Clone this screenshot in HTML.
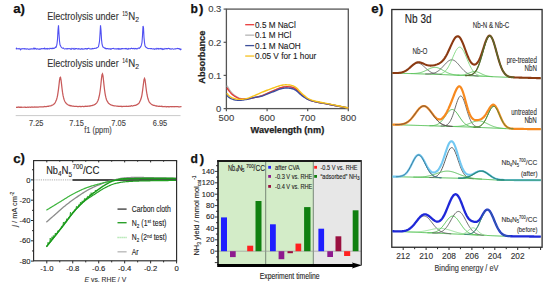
<!DOCTYPE html>
<html><head><meta charset="utf-8"><style>
html,body{margin:0;padding:0;background:#fff;width:550px;height:286px;overflow:hidden}
svg{display:block;font-family:"Liberation Sans", sans-serif}
</style></head><body>
<svg width="550" height="286" viewBox="0 0 550 286">
<text x="13.3" y="12.9" font-size="13.6" text-anchor="start" fill="#111" font-weight="bold" stroke="#111" stroke-width="0.25" textLength="7.4" lengthAdjust="spacingAndGlyphs" >a</text>
<text x="20.5" y="12.9" font-size="13.4" text-anchor="start" fill="#111" font-weight="bold" stroke="#111" stroke-width="0.25" textLength="4.4" lengthAdjust="spacingAndGlyphs" >)</text>
<text x="47.2" y="19.6" font-size="10.56" text-anchor="start" fill="#333" font-weight="normal" stroke="#333" stroke-width="0.12" textLength="71.5" lengthAdjust="spacingAndGlyphs" >Electrolysis under</text>
<text x="122.3" y="15.9" font-size="6.38" text-anchor="start" fill="#333" font-weight="normal" stroke="#333" stroke-width="0.12" textLength="5.6" lengthAdjust="spacingAndGlyphs" >15</text>
<text x="128.2" y="19.6" font-size="10.56" text-anchor="start" fill="#333" font-weight="normal" stroke="#333" stroke-width="0.12" textLength="7.0" lengthAdjust="spacingAndGlyphs" >N</text>
<text x="135.3" y="21.8" font-size="6.82" text-anchor="start" fill="#333" font-weight="normal" stroke="#333" stroke-width="0.12" textLength="3.8" lengthAdjust="spacingAndGlyphs" >2</text>
<text x="47.2" y="66.6" font-size="10.56" text-anchor="start" fill="#333" font-weight="normal" stroke="#333" stroke-width="0.12" textLength="71.5" lengthAdjust="spacingAndGlyphs" >Electrolysis under</text>
<text x="122.3" y="62.9" font-size="6.38" text-anchor="start" fill="#333" font-weight="normal" stroke="#333" stroke-width="0.12" textLength="5.6" lengthAdjust="spacingAndGlyphs" >14</text>
<text x="128.2" y="66.6" font-size="10.56" text-anchor="start" fill="#333" font-weight="normal" stroke="#333" stroke-width="0.12" textLength="7.0" lengthAdjust="spacingAndGlyphs" >N</text>
<text x="135.3" y="68.8" font-size="6.82" text-anchor="start" fill="#333" font-weight="normal" stroke="#333" stroke-width="0.12" textLength="3.8" lengthAdjust="spacingAndGlyphs" >2</text>
<path d="M 16.00 49.19 L 16.50 48.20 L 17.00 48.89 L 17.50 48.72 L 18.00 48.79 L 18.50 48.90 L 19.00 48.54 L 19.50 48.97 L 20.00 48.85 L 20.50 49.77 L 21.00 49.06 L 21.50 48.90 L 22.00 48.87 L 22.50 48.73 L 23.00 48.60 L 23.50 48.70 L 24.00 48.86 L 24.50 48.68 L 25.00 48.95 L 25.50 48.71 L 26.00 48.80 L 26.50 49.18 L 27.00 49.01 L 27.50 48.83 L 28.00 48.94 L 28.50 49.13 L 29.00 49.46 L 29.50 48.97 L 30.00 48.95 L 30.50 49.19 L 31.00 48.73 L 31.50 48.80 L 32.00 49.01 L 32.50 48.90 L 33.00 48.76 L 33.50 48.87 L 34.00 48.11 L 34.50 48.97 L 35.00 48.57 L 35.50 48.46 L 36.00 48.94 L 36.50 49.08 L 37.00 48.87 L 37.50 48.76 L 38.00 49.02 L 38.50 49.00 L 39.00 49.29 L 39.50 49.11 L 40.00 48.94 L 40.50 49.09 L 41.00 48.74 L 41.50 48.54 L 42.00 48.84 L 42.50 48.82 L 43.00 48.65 L 43.50 48.54 L 44.00 48.79 L 44.50 48.24 L 45.00 48.98 L 45.50 48.98 L 46.00 48.55 L 46.50 48.95 L 47.00 48.73 L 47.50 49.09 L 48.00 48.45 L 48.50 48.64 L 49.00 48.94 L 49.50 48.97 L 50.00 48.17 L 50.50 48.46 L 51.00 48.59 L 51.50 48.33 L 52.00 48.77 L 52.50 48.13 L 53.00 48.43 L 53.50 48.08 L 54.00 48.54 L 54.50 48.10 L 55.00 47.81 L 55.50 47.15 L 56.00 47.28 L 56.50 45.98 L 57.00 43.85 L 57.50 39.43 L 58.00 30.40 L 58.50 25.25 L 59.00 34.07 L 59.50 41.02 L 60.00 44.75 L 60.50 45.71 L 61.00 46.78 L 61.50 47.38 L 62.00 47.86 L 62.50 48.21 L 63.00 48.01 L 63.50 48.07 L 64.00 48.57 L 64.50 48.94 L 65.00 48.90 L 65.50 48.81 L 66.00 48.71 L 66.50 48.83 L 67.00 48.68 L 67.50 48.88 L 68.00 48.50 L 68.50 48.67 L 69.00 48.60 L 69.50 48.74 L 70.00 48.69 L 70.50 49.23 L 71.00 49.05 L 71.50 49.10 L 72.00 48.38 L 72.50 48.81 L 73.00 48.79 L 73.50 49.08 L 74.00 48.47 L 74.50 49.23 L 75.00 49.18 L 75.50 48.62 L 76.00 48.65 L 76.50 48.63 L 77.00 48.77 L 77.50 48.86 L 78.00 49.15 L 78.50 48.64 L 79.00 48.86 L 79.50 48.75 L 80.00 49.14 L 80.50 48.97 L 81.00 49.16 L 81.50 48.67 L 82.00 48.90 L 82.50 48.79 L 83.00 49.31 L 83.50 49.11 L 84.00 48.88 L 84.50 48.80 L 85.00 48.96 L 85.50 48.64 L 86.00 48.54 L 86.50 48.80 L 87.00 49.21 L 87.50 48.60 L 88.00 48.53 L 88.50 48.41 L 89.00 48.41 L 89.50 48.86 L 90.00 48.97 L 90.50 48.83 L 91.00 48.92 L 91.50 48.89 L 92.00 48.88 L 92.50 48.48 L 93.00 48.66 L 93.50 48.72 L 94.00 48.43 L 94.50 48.39 L 95.00 48.20 L 95.50 48.18 L 96.00 48.30 L 96.50 47.86 L 97.00 47.70 L 97.50 47.61 L 98.00 47.09 L 98.50 46.50 L 99.00 44.09 L 99.50 41.47 L 100.00 34.14 L 100.50 25.28 L 101.00 30.38 L 101.50 39.35 L 102.00 43.83 L 102.50 45.73 L 103.00 47.11 L 103.50 47.28 L 104.00 47.65 L 104.50 48.08 L 105.00 47.94 L 105.50 48.66 L 106.00 48.51 L 106.50 48.87 L 107.00 48.48 L 107.50 48.49 L 108.00 48.70 L 108.50 48.91 L 109.00 48.68 L 109.50 48.94 L 110.00 48.88 L 110.50 49.24 L 111.00 48.72 L 111.50 49.07 L 112.00 48.66 L 112.50 48.54 L 113.00 48.56 L 113.50 48.42 L 114.00 48.69 L 114.50 48.89 L 115.00 48.71 L 115.50 48.84 L 116.00 49.11 L 116.50 48.86 L 117.00 48.90 L 117.50 48.85 L 118.00 48.59 L 118.50 49.14 L 119.00 48.60 L 119.50 49.12 L 120.00 48.94 L 120.50 49.15 L 121.00 48.84 L 121.50 48.62 L 122.00 48.83 L 122.50 48.59 L 123.00 48.65 L 123.50 48.69 L 124.00 48.67 L 124.50 48.68 L 125.00 48.58 L 125.50 48.77 L 126.00 48.39 L 126.50 48.88 L 127.00 48.68 L 127.50 49.21 L 128.00 49.25 L 128.50 48.52 L 129.00 48.95 L 129.50 48.85 L 130.00 48.59 L 130.50 48.88 L 131.00 48.60 L 131.50 48.27 L 132.00 48.57 L 132.50 48.58 L 133.00 48.64 L 133.50 48.36 L 134.00 48.79 L 134.50 48.85 L 135.00 48.47 L 135.50 48.60 L 136.00 48.73 L 136.50 48.60 L 137.00 49.07 L 137.50 48.65 L 138.00 48.27 L 138.50 48.17 L 139.00 48.13 L 139.50 48.38 L 140.00 47.48 L 140.50 47.03 L 141.00 46.30 L 141.50 44.72 L 142.00 42.35 L 142.50 35.52 L 143.00 26.02 L 143.50 27.71 L 144.00 37.56 L 144.50 42.58 L 145.00 45.76 L 145.50 46.65 L 146.00 47.40 L 146.50 47.61 L 147.00 47.91 L 147.50 48.35 L 148.00 48.53 L 148.50 48.53 L 149.00 48.67 L 149.50 48.58 L 150.00 48.46 L 150.50 48.67 L 151.00 48.66 L 151.50 48.57 L 152.00 48.82 L 152.50 49.01 L 153.00 48.84 L 153.50 48.77 L 154.00 49.06 L 154.50 49.35 L 155.00 48.90 L 155.50 48.92 L 156.00 48.88 L 156.50 49.14 L 157.00 48.43 L 157.50 48.86 L 158.00 49.00 L 158.50 48.53 L 159.00 49.02 L 159.50 48.81 L 160.00 48.59 L 160.50 48.79 L 161.00 48.46 L 161.50 48.72 L 162.00 49.30 L 162.50 48.75 L 163.00 49.39 L 163.50 48.99 L 164.00 49.23 L 164.50 49.01 L 165.00 48.47 L 165.50 48.80 L 166.00 48.92 L 166.50 48.57 L 167.00 48.48 L 167.50 48.83 L 168.00 48.58 L 168.50 48.35 L 169.00 48.59 L 169.50 48.97 L 170.00 48.72 L 170.50 49.08 L 171.00 49.26 L 171.50 48.98 L 172.00 48.76 L 172.50 48.74 L 173.00 49.02 L 173.50 49.21 L 174.00 49.04 L 174.50 49.06 L 175.00 48.79 L 175.50 48.90 L 176.00 48.69 L 176.50 48.68 L 177.00 48.45 L 177.50 48.39 L 178.00 48.65 L 178.50 48.54 L 179.00 48.62 L 179.50 49.03 L 180.00 48.91 L 180.50 49.62 L 181.00 49.22 L 181.50 48.90" fill="none" stroke="#4f4ff2" stroke-width="1.1"/>
<path d="M 16.00 107.37 L 16.50 107.33 L 17.00 107.22 L 17.50 107.40 L 18.00 107.20 L 18.50 106.97 L 19.00 107.35 L 19.50 107.21 L 20.00 107.41 L 20.50 107.20 L 21.00 107.14 L 21.50 107.41 L 22.00 107.14 L 22.50 107.26 L 23.00 107.38 L 23.50 107.25 L 24.00 107.22 L 24.50 107.23 L 25.00 107.30 L 25.50 107.13 L 26.00 107.27 L 26.50 107.26 L 27.00 107.43 L 27.50 107.16 L 28.00 107.09 L 28.50 107.25 L 29.00 107.13 L 29.50 107.19 L 30.00 107.17 L 30.50 107.27 L 31.00 107.08 L 31.50 107.13 L 32.00 106.87 L 32.50 107.03 L 33.00 107.26 L 33.50 107.03 L 34.00 107.02 L 34.50 106.96 L 35.00 107.13 L 35.50 107.08 L 36.00 106.93 L 36.50 107.10 L 37.00 107.05 L 37.50 107.08 L 38.00 106.93 L 38.50 107.15 L 39.00 107.00 L 39.50 106.93 L 40.00 106.87 L 40.50 106.88 L 41.00 106.97 L 41.50 106.83 L 42.00 106.94 L 42.50 106.87 L 43.00 106.91 L 43.50 106.83 L 44.00 106.71 L 44.50 106.49 L 45.00 106.67 L 45.50 106.67 L 46.00 106.56 L 46.50 106.55 L 47.00 106.39 L 47.50 106.33 L 48.00 106.20 L 48.50 106.35 L 49.00 106.14 L 49.50 105.97 L 50.00 105.77 L 50.50 105.76 L 51.00 105.76 L 51.50 105.48 L 52.00 105.16 L 52.50 105.13 L 53.00 104.83 L 53.50 104.44 L 54.00 104.00 L 54.50 103.51 L 55.00 102.81 L 55.50 102.02 L 56.00 100.84 L 56.50 99.75 L 57.00 97.91 L 57.50 95.85 L 58.00 92.54 L 58.50 89.15 L 59.00 84.88 L 59.50 80.45 L 60.00 77.55 L 60.50 77.28 L 61.00 79.78 L 61.50 83.82 L 62.00 88.22 L 62.50 92.14 L 63.00 95.21 L 63.50 97.45 L 64.00 99.24 L 64.50 100.64 L 65.00 101.79 L 65.50 102.42 L 66.00 103.06 L 66.50 103.73 L 67.00 104.04 L 67.50 104.45 L 68.00 104.81 L 68.50 105.10 L 69.00 105.15 L 69.50 105.51 L 70.00 105.40 L 70.50 105.76 L 71.00 105.66 L 71.50 105.79 L 72.00 106.06 L 72.50 106.03 L 73.00 106.06 L 73.50 106.15 L 74.00 106.29 L 74.50 106.28 L 75.00 106.31 L 75.50 106.46 L 76.00 106.31 L 76.50 106.35 L 77.00 106.37 L 77.50 106.56 L 78.00 106.55 L 78.50 106.59 L 79.00 106.47 L 79.50 106.46 L 80.00 106.57 L 80.50 106.44 L 81.00 106.57 L 81.50 106.55 L 82.00 106.40 L 82.50 106.46 L 83.00 106.44 L 83.50 106.62 L 84.00 106.69 L 84.50 106.40 L 85.00 106.39 L 85.50 106.14 L 86.00 106.36 L 86.50 106.31 L 87.00 106.16 L 87.50 106.31 L 88.00 106.03 L 88.50 106.12 L 89.00 106.10 L 89.50 105.89 L 90.00 106.03 L 90.50 105.97 L 91.00 105.63 L 91.50 105.53 L 92.00 105.61 L 92.50 105.40 L 93.00 105.12 L 93.50 105.03 L 94.00 104.83 L 94.50 104.57 L 95.00 104.35 L 95.50 103.94 L 96.00 103.63 L 96.50 103.05 L 97.00 102.30 L 97.50 101.49 L 98.00 100.44 L 98.50 98.99 L 99.00 97.01 L 99.50 94.87 L 100.00 91.74 L 100.50 88.01 L 101.00 83.22 L 101.50 78.42 L 102.00 74.68 L 102.50 73.82 L 103.00 75.91 L 103.50 80.23 L 104.00 85.16 L 104.50 89.45 L 105.00 93.05 L 105.50 95.78 L 106.00 97.91 L 106.50 99.69 L 107.00 100.70 L 107.50 101.72 L 108.00 102.47 L 108.50 103.17 L 109.00 103.49 L 109.50 103.95 L 110.00 104.35 L 110.50 104.70 L 111.00 104.88 L 111.50 105.03 L 112.00 105.17 L 112.50 105.46 L 113.00 105.68 L 113.50 105.68 L 114.00 105.76 L 114.50 105.88 L 115.00 105.81 L 115.50 105.94 L 116.00 106.00 L 116.50 106.11 L 117.00 106.12 L 117.50 106.04 L 118.00 106.31 L 118.50 106.40 L 119.00 106.23 L 119.50 106.32 L 120.00 106.33 L 120.50 106.40 L 121.00 106.19 L 121.50 106.51 L 122.00 106.31 L 122.50 106.49 L 123.00 106.37 L 123.50 106.33 L 124.00 106.36 L 124.50 106.46 L 125.00 106.28 L 125.50 106.32 L 126.00 106.30 L 126.50 106.16 L 127.00 106.45 L 127.50 106.36 L 128.00 106.28 L 128.50 106.38 L 129.00 106.14 L 129.50 106.20 L 130.00 106.34 L 130.50 106.23 L 131.00 105.86 L 131.50 105.70 L 132.00 105.87 L 132.50 106.02 L 133.00 105.79 L 133.50 105.73 L 134.00 105.71 L 134.50 105.45 L 135.00 105.43 L 135.50 105.33 L 136.00 105.12 L 136.50 104.90 L 137.00 104.55 L 137.50 104.36 L 138.00 103.90 L 138.50 103.62 L 139.00 103.20 L 139.50 102.17 L 140.00 101.15 L 140.50 100.21 L 141.00 98.83 L 141.50 97.00 L 142.00 94.52 L 142.50 91.16 L 143.00 87.29 L 143.50 83.32 L 144.00 79.59 L 144.50 78.41 L 145.00 79.68 L 145.50 83.28 L 146.00 87.45 L 146.50 91.32 L 147.00 94.50 L 147.50 96.80 L 148.00 98.83 L 148.50 100.26 L 149.00 101.42 L 149.50 102.39 L 150.00 102.93 L 150.50 103.45 L 151.00 103.89 L 151.50 104.30 L 152.00 104.72 L 152.50 104.81 L 153.00 105.23 L 153.50 105.32 L 154.00 105.43 L 154.50 105.45 L 155.00 105.73 L 155.50 105.87 L 156.00 105.72 L 156.50 106.09 L 157.00 106.21 L 157.50 106.14 L 158.00 106.21 L 158.50 106.46 L 159.00 106.38 L 159.50 106.21 L 160.00 106.34 L 160.50 106.35 L 161.00 106.39 L 161.50 106.19 L 162.00 106.53 L 162.50 106.41 L 163.00 106.52 L 163.50 106.51 L 164.00 106.62 L 164.50 106.52 L 165.00 106.49 L 165.50 106.64 L 166.00 106.74 L 166.50 106.58 L 167.00 106.76 L 167.50 106.66 L 168.00 106.59 L 168.50 106.80 L 169.00 106.58 L 169.50 106.77 L 170.00 106.63 L 170.50 106.73 L 171.00 106.57 L 171.50 106.61 L 172.00 106.81 L 172.50 106.73 L 173.00 106.72 L 173.50 106.67 L 174.00 106.77 L 174.50 106.59 L 175.00 106.62 L 175.50 106.72 L 176.00 106.65 L 176.50 106.67 L 177.00 106.74 L 177.50 106.73 L 178.00 106.73 L 178.50 106.92 L 179.00 106.85 L 179.50 106.88 L 180.00 106.76 L 180.50 106.71 L 181.00 106.62 L 181.50 106.73" fill="none" stroke="#c85a5a" stroke-width="1.25"/>
<line x1="15.7" y1="115.6" x2="180.5" y2="115.6" stroke="#bdbdbd" stroke-width="0.8"/>
<text x="36.2" y="125.7" font-size="9.02" text-anchor="middle" fill="#444" font-weight="normal" stroke="#444" stroke-width="0.12" textLength="14.5" lengthAdjust="spacingAndGlyphs" >7.25</text>
<text x="76.6" y="125.7" font-size="9.02" text-anchor="middle" fill="#444" font-weight="normal" stroke="#444" stroke-width="0.12" textLength="14.5" lengthAdjust="spacingAndGlyphs" >7.15</text>
<text x="118.6" y="125.7" font-size="9.02" text-anchor="middle" fill="#444" font-weight="normal" stroke="#444" stroke-width="0.12" textLength="14.5" lengthAdjust="spacingAndGlyphs" >7.05</text>
<text x="160" y="125.7" font-size="9.02" text-anchor="middle" fill="#444" font-weight="normal" stroke="#444" stroke-width="0.12" textLength="14.5" lengthAdjust="spacingAndGlyphs" >6.95</text>
<text x="98" y="132.7" font-size="9.02" text-anchor="middle" fill="#444" font-weight="normal" stroke="#444" stroke-width="0.12" textLength="27.5" lengthAdjust="spacingAndGlyphs" >f1 (ppm)</text>
<text x="190.4" y="12.7" font-size="13.6" text-anchor="start" fill="#111" font-weight="bold" stroke="#111" stroke-width="0.25" textLength="7.4" lengthAdjust="spacingAndGlyphs" >b</text>
<text x="199.1" y="12.9" font-size="13.4" text-anchor="start" fill="#111" font-weight="bold" stroke="#111" stroke-width="0.25" textLength="4.4" lengthAdjust="spacingAndGlyphs" >)</text>
<rect x="226.4" y="9.1" width="121.9" height="99.5" fill="none" stroke="#555" stroke-width="1.3"/>
<line x1="223.6" y1="9.1" x2="226.4" y2="9.1" stroke="#555" stroke-width="1.2"/>
<text x="221.3" y="12.3" font-size="9.46" text-anchor="end" fill="#444" font-weight="normal" stroke="#444" stroke-width="0.12" >0.3</text>
<line x1="223.6" y1="42.3" x2="226.4" y2="42.3" stroke="#555" stroke-width="1.2"/>
<text x="221.3" y="45.5" font-size="9.46" text-anchor="end" fill="#444" font-weight="normal" stroke="#444" stroke-width="0.12" >0.2</text>
<line x1="223.6" y1="75.4" x2="226.4" y2="75.4" stroke="#555" stroke-width="1.2"/>
<text x="221.3" y="78.60000000000001" font-size="9.46" text-anchor="end" fill="#444" font-weight="normal" stroke="#444" stroke-width="0.12" >0.1</text>
<line x1="223.6" y1="108.6" x2="226.4" y2="108.6" stroke="#555" stroke-width="1.2"/>
<text x="221.3" y="111.8" font-size="9.46" text-anchor="end" fill="#444" font-weight="normal" stroke="#444" stroke-width="0.12" >0</text>
<line x1="226.4" y1="108.6" x2="226.4" y2="111.2" stroke="#555" stroke-width="1.2"/>
<text x="226.4" y="121" font-size="9.46" text-anchor="middle" fill="#444" font-weight="normal" stroke="#444" stroke-width="0.12" >500</text>
<line x1="267.1" y1="108.6" x2="267.1" y2="111.2" stroke="#555" stroke-width="1.2"/>
<text x="267.1" y="121" font-size="9.46" text-anchor="middle" fill="#444" font-weight="normal" stroke="#444" stroke-width="0.12" >600</text>
<line x1="307.7" y1="108.6" x2="307.7" y2="111.2" stroke="#555" stroke-width="1.2"/>
<text x="307.7" y="121" font-size="9.46" text-anchor="middle" fill="#444" font-weight="normal" stroke="#444" stroke-width="0.12" >700</text>
<line x1="348.3" y1="108.6" x2="348.3" y2="111.2" stroke="#555" stroke-width="1.2"/>
<text x="348.3" y="121" font-size="9.46" text-anchor="middle" fill="#444" font-weight="normal" stroke="#444" stroke-width="0.12" >800</text>
<text x="287.4" y="133" font-size="9.2" text-anchor="middle" fill="#222" font-weight="bold" stroke="#222" stroke-width="0.25" textLength="73.6" lengthAdjust="spacingAndGlyphs" >Wavelength (nm)</text>
<text x="0" y="0" font-size="9.2" font-weight="bold" fill="#222" stroke="#222" stroke-width="0.25" text-anchor="middle" textLength="53" lengthAdjust="spacingAndGlyphs" transform="translate(205.4,57.2) rotate(-90)">Absorbance</text>
<line x1="245.2" y1="24.7" x2="254.2" y2="24.7" stroke="#e83a3a" stroke-width="1.3"/>
<text x="255.1" y="27.8" font-size="9.46" text-anchor="start" fill="#1a1a1a" font-weight="normal" stroke="#1a1a1a" stroke-width="0.12" textLength="40.7" lengthAdjust="spacingAndGlyphs" >0.5 M NaCl</text>
<line x1="245.2" y1="35.15" x2="254.2" y2="35.15" stroke="#b4b4b4" stroke-width="1.3"/>
<text x="255.1" y="38.25" font-size="9.46" text-anchor="start" fill="#1a1a1a" font-weight="normal" stroke="#1a1a1a" stroke-width="0.12" textLength="36.1" lengthAdjust="spacingAndGlyphs" >0.1 M HCl</text>
<line x1="245.2" y1="45.599999999999994" x2="254.2" y2="45.599999999999994" stroke="#3d4f9a" stroke-width="1.3"/>
<text x="255.1" y="48.699999999999996" font-size="9.46" text-anchor="start" fill="#1a1a1a" font-weight="normal" stroke="#1a1a1a" stroke-width="0.12" textLength="45.6" lengthAdjust="spacingAndGlyphs" >0.1 M NaOH</text>
<line x1="245.2" y1="56.05" x2="254.2" y2="56.05" stroke="#f5c020" stroke-width="1.3"/>
<text x="255.1" y="59.15" font-size="9.46" text-anchor="start" fill="#1a1a1a" font-weight="normal" stroke="#1a1a1a" stroke-width="0.12" textLength="61.2" lengthAdjust="spacingAndGlyphs" >0.05 V for 1 hour</text>
<path d="M 226.80 85.60 L 227.20 86.19 L 227.72 87.00 L 228.33 87.96 L 229.03 89.02 L 229.76 90.11 L 230.52 91.18 L 231.28 92.16 L 232.00 93.00 L 232.71 93.72 L 233.44 94.40 L 234.19 95.04 L 234.95 95.62 L 235.71 96.17 L 236.48 96.66 L 237.24 97.11 L 238.00 97.50 L 238.74 97.84 L 239.45 98.12 L 240.16 98.35 L 240.88 98.54 L 241.60 98.68 L 242.36 98.78 L 243.15 98.86 L 244.00 98.90 L 244.89 98.91 L 245.81 98.87 L 246.77 98.80 L 247.75 98.69 L 248.77 98.56 L 249.81 98.39 L 250.89 98.20 L 252.00 98.00 L 253.15 97.78 L 254.36 97.53 L 255.60 97.26 L 256.88 96.96 L 258.16 96.64 L 259.45 96.29 L 260.74 95.91 L 262.00 95.50 L 263.26 95.04 L 264.52 94.54 L 265.79 93.99 L 267.06 93.42 L 268.32 92.84 L 269.57 92.27 L 270.80 91.72 L 272.00 91.20 L 273.19 90.70 L 274.37 90.19 L 275.54 89.68 L 276.69 89.19 L 277.82 88.73 L 278.91 88.30 L 279.98 87.92 L 281.00 87.60 L 281.97 87.33 L 282.89 87.11 L 283.77 86.92 L 284.62 86.77 L 285.46 86.67 L 286.30 86.61 L 287.14 86.58 L 288.00 86.60 L 288.87 86.64 L 289.73 86.68 L 290.58 86.76 L 291.44 86.88 L 292.30 87.07 L 293.18 87.34 L 294.08 87.71 L 295.00 88.20 L 295.95 88.85 L 296.91 89.67 L 297.89 90.61 L 298.89 91.62 L 299.90 92.66 L 300.92 93.68 L 301.95 94.64 L 303.00 95.50 L 304.00 96.27 L 304.92 97.00 L 305.83 97.70 L 306.76 98.38 L 307.78 99.02 L 308.92 99.63 L 310.24 100.23 L 311.80 100.80 L 313.62 101.34 L 315.69 101.84 L 317.93 102.31 L 320.31 102.76 L 322.75 103.20 L 325.22 103.63 L 327.66 104.06 L 330.00 104.50 L 332.41 104.97 L 335.00 105.47 L 337.66 105.98 L 340.29 106.48 L 342.77 106.95 L 345.01 107.38 L 346.89 107.73 L 348.30 108.00" fill="none" stroke="#bdbdbd" stroke-width="1.4"/>
<path d="M 226.80 87.80 L 227.19 88.31 L 227.69 89.00 L 228.29 89.83 L 228.96 90.74 L 229.69 91.68 L 230.45 92.60 L 231.23 93.46 L 232.00 94.20 L 232.80 94.86 L 233.65 95.49 L 234.54 96.10 L 235.45 96.67 L 236.37 97.19 L 237.28 97.66 L 238.16 98.07 L 239.00 98.40 L 239.79 98.65 L 240.55 98.82 L 241.28 98.92 L 242.00 98.96 L 242.72 98.97 L 243.45 98.95 L 244.21 98.93 L 245.00 98.90 L 245.81 98.87 L 246.61 98.83 L 247.42 98.77 L 248.25 98.69 L 249.11 98.58 L 250.02 98.45 L 250.97 98.29 L 252.00 98.10 L 253.11 97.88 L 254.29 97.64 L 255.53 97.37 L 256.81 97.07 L 258.12 96.74 L 259.43 96.39 L 260.73 96.01 L 262.00 95.60 L 263.26 95.14 L 264.52 94.64 L 265.79 94.09 L 267.06 93.52 L 268.32 92.94 L 269.57 92.37 L 270.80 91.82 L 272.00 91.30 L 273.19 90.80 L 274.37 90.29 L 275.54 89.78 L 276.69 89.29 L 277.82 88.82 L 278.91 88.39 L 279.98 88.02 L 281.00 87.70 L 281.97 87.44 L 282.89 87.22 L 283.77 87.05 L 284.62 86.92 L 285.46 86.83 L 286.30 86.78 L 287.14 86.77 L 288.00 86.80 L 288.87 86.85 L 289.73 86.91 L 290.58 87.00 L 291.44 87.14 L 292.30 87.34 L 293.18 87.62 L 294.08 88.00 L 295.00 88.50 L 295.95 89.16 L 296.91 89.99 L 297.89 90.93 L 298.89 91.94 L 299.90 92.98 L 300.92 94.01 L 301.95 94.96 L 303.00 95.80 L 304.00 96.54 L 304.92 97.24 L 305.83 97.90 L 306.76 98.53 L 307.78 99.12 L 308.92 99.70 L 310.24 100.25 L 311.80 100.80 L 313.62 101.33 L 315.69 101.82 L 317.93 102.29 L 320.31 102.74 L 322.75 103.18 L 325.22 103.62 L 327.66 104.06 L 330.00 104.50 L 332.41 104.97 L 335.00 105.47 L 337.66 105.98 L 340.29 106.48 L 342.77 106.95 L 345.01 107.38 L 346.89 107.73 L 348.30 108.00" fill="none" stroke="#e53935" stroke-width="1.4"/>
<path d="M 226.80 95.50 L 227.10 95.75 L 227.48 96.09 L 227.94 96.49 L 228.45 96.94 L 229.02 97.40 L 229.64 97.84 L 230.30 98.25 L 231.00 98.60 L 231.75 98.91 L 232.57 99.20 L 233.45 99.49 L 234.37 99.75 L 235.32 99.98 L 236.29 100.17 L 237.25 100.31 L 238.20 100.40 L 239.14 100.42 L 240.10 100.39 L 241.07 100.30 L 242.05 100.18 L 243.03 100.03 L 244.02 99.86 L 245.01 99.68 L 246.00 99.50 L 246.99 99.31 L 247.98 99.09 L 248.98 98.85 L 249.97 98.59 L 250.98 98.33 L 251.98 98.08 L 252.99 97.83 L 254.00 97.60 L 255.00 97.40 L 256.00 97.23 L 256.99 97.07 L 257.99 96.92 L 259.00 96.75 L 260.03 96.55 L 261.10 96.30 L 262.20 96.00 L 263.35 95.63 L 264.56 95.20 L 265.79 94.72 L 267.05 94.21 L 268.31 93.69 L 269.57 93.17 L 270.80 92.67 L 272.00 92.20 L 273.18 91.74 L 274.35 91.26 L 275.52 90.78 L 276.68 90.31 L 277.81 89.86 L 278.91 89.45 L 279.98 89.09 L 281.00 88.80 L 281.97 88.57 L 282.89 88.38 L 283.77 88.23 L 284.62 88.13 L 285.46 88.07 L 286.30 88.04 L 287.14 88.05 L 288.00 88.10 L 288.87 88.16 L 289.73 88.24 L 290.58 88.35 L 291.44 88.49 L 292.30 88.70 L 293.18 88.97 L 294.08 89.34 L 295.00 89.80 L 295.95 90.41 L 296.91 91.16 L 297.89 92.01 L 298.89 92.93 L 299.90 93.87 L 300.92 94.79 L 301.95 95.65 L 303.00 96.40 L 304.00 97.06 L 304.92 97.67 L 305.83 98.24 L 306.76 98.78 L 307.78 99.30 L 308.92 99.80 L 310.24 100.30 L 311.80 100.80 L 313.62 101.30 L 315.69 101.78 L 317.93 102.25 L 320.31 102.71 L 322.75 103.16 L 325.22 103.61 L 327.66 104.05 L 330.00 104.50 L 332.41 104.97 L 335.00 105.47 L 337.66 105.98 L 340.29 106.48 L 342.77 106.95 L 345.01 107.38 L 346.89 107.73 L 348.30 108.00" fill="none" stroke="#3b4ea0" stroke-width="1.4"/>
<path d="M 226.80 93.30 L 227.10 93.61 L 227.49 94.04 L 227.94 94.56 L 228.46 95.12 L 229.04 95.70 L 229.65 96.26 L 230.31 96.77 L 231.00 97.20 L 231.74 97.57 L 232.53 97.91 L 233.38 98.24 L 234.28 98.53 L 235.19 98.79 L 236.13 99.01 L 237.07 99.18 L 238.00 99.30 L 238.93 99.37 L 239.88 99.39 L 240.85 99.37 L 241.82 99.31 L 242.81 99.21 L 243.80 99.07 L 244.80 98.90 L 245.80 98.70 L 246.81 98.45 L 247.82 98.15 L 248.85 97.81 L 249.88 97.44 L 250.91 97.04 L 251.94 96.63 L 252.97 96.21 L 254.00 95.80 L 255.01 95.38 L 256.01 94.95 L 257.00 94.51 L 258.00 94.06 L 259.01 93.60 L 260.04 93.13 L 261.10 92.66 L 262.20 92.20 L 263.35 91.73 L 264.56 91.25 L 265.79 90.75 L 267.05 90.26 L 268.31 89.78 L 269.57 89.30 L 270.80 88.84 L 272.00 88.40 L 273.18 87.97 L 274.35 87.54 L 275.52 87.11 L 276.68 86.69 L 277.81 86.31 L 278.91 85.96 L 279.98 85.65 L 281.00 85.40 L 281.97 85.20 L 282.89 85.04 L 283.77 84.92 L 284.62 84.84 L 285.46 84.80 L 286.30 84.80 L 287.14 84.83 L 288.00 84.90 L 288.87 84.98 L 289.73 85.07 L 290.58 85.18 L 291.44 85.34 L 292.30 85.56 L 293.18 85.86 L 294.08 86.27 L 295.00 86.80 L 295.95 87.50 L 296.91 88.36 L 297.89 89.35 L 298.89 90.41 L 299.90 91.50 L 300.92 92.58 L 301.95 93.59 L 303.00 94.50 L 304.00 95.32 L 304.92 96.11 L 305.83 96.86 L 306.76 97.59 L 307.78 98.28 L 308.92 98.95 L 310.24 99.59 L 311.80 100.20 L 313.62 100.77 L 315.69 101.30 L 317.93 101.79 L 320.31 102.26 L 322.75 102.72 L 325.22 103.17 L 327.66 103.62 L 330.00 104.10 L 332.41 104.61 L 335.00 105.17 L 337.66 105.73 L 340.29 106.29 L 342.77 106.82 L 345.01 107.30 L 346.89 107.70 L 348.30 108.00" fill="none" stroke="#f7c21a" stroke-width="1.4"/>
<text x="13.2" y="162.7" font-size="13.6" text-anchor="start" fill="#111" font-weight="bold" stroke="#111" stroke-width="0.25" textLength="7.4" lengthAdjust="spacingAndGlyphs" >c</text>
<text x="20.5" y="162.0" font-size="13.4" text-anchor="start" fill="#111" font-weight="bold" stroke="#111" stroke-width="0.25" textLength="4.4" lengthAdjust="spacingAndGlyphs" >)</text>
<rect x="33.6" y="160.6" width="143" height="100.2" fill="none" stroke="#2a2a2a" stroke-width="1.15"/>
<line x1="32.0" y1="169.75" x2="33.6" y2="169.75" stroke="#2a2a2a" stroke-width="1"/>
<line x1="31.0" y1="179.90" x2="33.6" y2="179.90" stroke="#2a2a2a" stroke-width="1"/>
<text x="30.4" y="182.5" font-size="7.59" text-anchor="end" fill="#222" font-weight="normal" stroke="#222" stroke-width="0.12" >0</text>
<line x1="32.0" y1="190.05" x2="33.6" y2="190.05" stroke="#2a2a2a" stroke-width="1"/>
<line x1="31.0" y1="200.20" x2="33.6" y2="200.20" stroke="#2a2a2a" stroke-width="1"/>
<text x="30.4" y="202.8" font-size="7.59" text-anchor="end" fill="#222" font-weight="normal" stroke="#222" stroke-width="0.12" >-20</text>
<line x1="32.0" y1="210.35" x2="33.6" y2="210.35" stroke="#2a2a2a" stroke-width="1"/>
<line x1="31.0" y1="220.50" x2="33.6" y2="220.50" stroke="#2a2a2a" stroke-width="1"/>
<text x="30.4" y="223.1" font-size="7.59" text-anchor="end" fill="#222" font-weight="normal" stroke="#222" stroke-width="0.12" >-40</text>
<line x1="32.0" y1="230.65" x2="33.6" y2="230.65" stroke="#2a2a2a" stroke-width="1"/>
<line x1="31.0" y1="240.80" x2="33.6" y2="240.80" stroke="#2a2a2a" stroke-width="1"/>
<text x="30.4" y="243.4" font-size="7.59" text-anchor="end" fill="#222" font-weight="normal" stroke="#222" stroke-width="0.12" >-60</text>
<line x1="32.0" y1="250.95" x2="33.6" y2="250.95" stroke="#2a2a2a" stroke-width="1"/>
<line x1="31.0" y1="261.10" x2="33.6" y2="261.10" stroke="#2a2a2a" stroke-width="1"/>
<text x="30.4" y="263.70000000000005" font-size="7.59" text-anchor="end" fill="#222" font-weight="normal" stroke="#222" stroke-width="0.12" >-80</text>
<line x1="46.80" y1="260.8" x2="46.80" y2="263.40000000000003" stroke="#2a2a2a" stroke-width="1"/>
<line x1="46.80" y1="160.6" x2="46.80" y2="162.42" stroke="#2a2a2a" stroke-width="1"/>
<text x="46.79999999999998" y="270.8" font-size="7.7" text-anchor="middle" fill="#222" font-weight="normal" stroke="#222" stroke-width="0.12" >-1.0</text>
<line x1="59.78" y1="260.8" x2="59.78" y2="262.40000000000003" stroke="#2a2a2a" stroke-width="1"/>
<line x1="59.78" y1="160.6" x2="59.78" y2="161.72" stroke="#2a2a2a" stroke-width="1"/>
<line x1="72.76" y1="260.8" x2="72.76" y2="263.40000000000003" stroke="#2a2a2a" stroke-width="1"/>
<line x1="72.76" y1="160.6" x2="72.76" y2="162.42" stroke="#2a2a2a" stroke-width="1"/>
<text x="72.75999999999998" y="270.8" font-size="7.7" text-anchor="middle" fill="#222" font-weight="normal" stroke="#222" stroke-width="0.12" >-0.8</text>
<line x1="85.74" y1="260.8" x2="85.74" y2="262.40000000000003" stroke="#2a2a2a" stroke-width="1"/>
<line x1="85.74" y1="160.6" x2="85.74" y2="161.72" stroke="#2a2a2a" stroke-width="1"/>
<line x1="98.72" y1="260.8" x2="98.72" y2="263.40000000000003" stroke="#2a2a2a" stroke-width="1"/>
<line x1="98.72" y1="160.6" x2="98.72" y2="162.42" stroke="#2a2a2a" stroke-width="1"/>
<text x="98.71999999999998" y="270.8" font-size="7.7" text-anchor="middle" fill="#222" font-weight="normal" stroke="#222" stroke-width="0.12" >-0.6</text>
<line x1="111.70" y1="260.8" x2="111.70" y2="262.40000000000003" stroke="#2a2a2a" stroke-width="1"/>
<line x1="111.70" y1="160.6" x2="111.70" y2="161.72" stroke="#2a2a2a" stroke-width="1"/>
<line x1="124.68" y1="260.8" x2="124.68" y2="263.40000000000003" stroke="#2a2a2a" stroke-width="1"/>
<line x1="124.68" y1="160.6" x2="124.68" y2="162.42" stroke="#2a2a2a" stroke-width="1"/>
<text x="124.67999999999998" y="270.8" font-size="7.7" text-anchor="middle" fill="#222" font-weight="normal" stroke="#222" stroke-width="0.12" >-0.4</text>
<line x1="137.66" y1="260.8" x2="137.66" y2="262.40000000000003" stroke="#2a2a2a" stroke-width="1"/>
<line x1="137.66" y1="160.6" x2="137.66" y2="161.72" stroke="#2a2a2a" stroke-width="1"/>
<line x1="150.64" y1="260.8" x2="150.64" y2="263.40000000000003" stroke="#2a2a2a" stroke-width="1"/>
<line x1="150.64" y1="160.6" x2="150.64" y2="162.42" stroke="#2a2a2a" stroke-width="1"/>
<text x="150.64" y="270.8" font-size="7.7" text-anchor="middle" fill="#222" font-weight="normal" stroke="#222" stroke-width="0.12" >-0.2</text>
<line x1="163.62" y1="260.8" x2="163.62" y2="262.40000000000003" stroke="#2a2a2a" stroke-width="1"/>
<line x1="163.62" y1="160.6" x2="163.62" y2="161.72" stroke="#2a2a2a" stroke-width="1"/>
<line x1="176.60" y1="260.8" x2="176.60" y2="263.40000000000003" stroke="#2a2a2a" stroke-width="1"/>
<line x1="176.60" y1="160.6" x2="176.60" y2="162.42" stroke="#2a2a2a" stroke-width="1"/>
<text x="176.6" y="270.8" font-size="7.7" text-anchor="middle" fill="#222" font-weight="normal" stroke="#222" stroke-width="0.12" >0</text>
<text x="84.6" y="282" font-size="7.92" text-anchor="start" fill="#333" font-weight="normal" stroke="#333" stroke-width="0.12" textLength="41.6" lengthAdjust="spacingAndGlyphs" ><tspan font-style="italic">E</tspan> vs. RHE / V</text>
<text x="0" y="0" font-size="7.6" fill="#333" stroke="#333" stroke-width="0.12" text-anchor="middle" textLength="35" lengthAdjust="spacingAndGlyphs" transform="translate(16.9,209.2) rotate(-90)"><tspan font-style="italic">j</tspan> / mA cm<tspan font-size="5" dy="-2.7">-2</tspan></text>
<text x="46.2" y="173.5" font-size="10.78" text-anchor="start" fill="#222" font-weight="normal" stroke="#222" stroke-width="0.12" textLength="11.8" lengthAdjust="spacingAndGlyphs" >Nb</text>
<text x="57.9" y="176.2" font-size="6.6" text-anchor="start" fill="#222" font-weight="normal" stroke="#222" stroke-width="0.12" textLength="3.5" lengthAdjust="spacingAndGlyphs" >4</text>
<text x="61.6" y="173.5" font-size="10.78" text-anchor="start" fill="#222" font-weight="normal" stroke="#222" stroke-width="0.12" textLength="7.0" lengthAdjust="spacingAndGlyphs" >N</text>
<text x="68.6" y="176.6" font-size="6.6" text-anchor="start" fill="#222" font-weight="normal" stroke="#222" stroke-width="0.12" textLength="3.5" lengthAdjust="spacingAndGlyphs" >5</text>
<text x="72.6" y="168.8" font-size="6.6" text-anchor="start" fill="#222" font-weight="normal" stroke="#222" stroke-width="0.12" textLength="10.3" lengthAdjust="spacingAndGlyphs" >700</text>
<text x="82.9" y="173.5" font-size="10.78" text-anchor="start" fill="#222" font-weight="normal" stroke="#222" stroke-width="0.12" textLength="16.6" lengthAdjust="spacingAndGlyphs" >/CC</text>
<line x1="34.2" y1="179.9" x2="72.5" y2="179.9" stroke="#aaa" stroke-width="1" stroke-dasharray="1.2,1"/>
<line x1="72.5" y1="180" x2="176" y2="180" stroke="#111" stroke-width="1.3"/>
<path d="M 46.40 222.20 L 47.10 221.58 L 47.80 220.96 L 48.50 220.34 L 49.20 219.72 L 49.90 219.10 L 50.60 218.48 L 51.30 217.86 L 52.00 217.24 L 52.70 216.63 L 53.40 216.01 L 54.10 215.39 L 54.80 214.78 L 55.50 214.16 L 56.20 213.54 L 56.90 212.91 L 57.60 212.29 L 58.30 211.66 L 59.00 211.03 L 59.70 210.41 L 60.40 209.78 L 61.10 209.17 L 61.80 208.56 L 62.50 207.95 L 63.20 207.36 L 63.90 206.77 L 64.60 206.20 L 65.30 205.64 L 66.00 205.08 L 66.70 204.52 L 67.40 203.98 L 68.10 203.44 L 68.80 202.90 L 69.50 202.37 L 70.20 201.85 L 70.90 201.33 L 71.60 200.82 L 72.30 200.31 L 73.00 199.81 L 73.70 199.31 L 74.40 198.82 L 75.10 198.33 L 75.80 197.84 L 76.50 197.35 L 77.20 196.86 L 77.90 196.37 L 78.60 195.89 L 79.30 195.41 L 80.00 194.94 L 80.70 194.47 L 81.40 194.00 L 82.10 193.54 L 82.80 193.09 L 83.50 192.65 L 84.20 192.21 L 84.90 191.78 L 85.60 191.36 L 86.30 190.95 L 87.00 190.55 L 87.70 190.16 L 88.40 189.78 L 89.10 189.41 L 89.80 189.04 L 90.50 188.68 L 91.20 188.33 L 91.90 187.98 L 92.60 187.63 L 93.30 187.29 L 94.00 186.96 L 94.70 186.64 L 95.40 186.32 L 96.10 186.01 L 96.80 185.70 L 97.50 185.41 L 98.20 185.11 L 98.90 184.83 L 99.60 184.55 L 100.30 184.29 L 101.00 184.02 L 101.70 183.76 L 102.40 183.50 L 103.10 183.25 L 103.80 183.00 L 104.50 182.75 L 105.20 182.52 L 105.90 182.28 L 106.60 182.05 L 107.30 181.83 L 108.00 181.61 L 108.70 181.40 L 109.40 181.20 L 110.10 181.00 L 110.80 180.81 L 111.50 180.63 L 112.20 180.45 L 112.90 180.28 L 113.60 180.10 L 114.30 179.92 L 115.00 179.75 L 115.70 179.58 L 116.40 179.41 L 117.10 179.24 L 117.80 179.08 L 118.50 178.92 L 119.20 178.77 L 119.90 178.63 L 120.60 178.50 L 121.30 178.37 L 122.00 178.26 L 122.70 178.15 L 123.40 178.06 L 124.10 177.98 L 124.80 177.92 L 125.50 177.86 L 126.20 177.81 L 126.90 177.76 L 127.60 177.71 L 128.30 177.66 L 129.00 177.61 L 129.70 177.57 L 130.40 177.53 L 131.10 177.50 L 131.80 177.47 L 132.50 177.44 L 133.20 177.42 L 133.90 177.41 L 134.60 177.40 L 135.30 177.40 L 136.00 177.40 L 136.70 177.41 L 137.40 177.41 L 138.10 177.42 L 138.80 177.43 L 139.50 177.44 L 140.20 177.45 L 140.90 177.46 L 141.60 177.47 L 142.30 177.49 L 143.00 177.50 L 143.70 177.52 L 144.40 177.54 L 145.10 177.55 L 145.80 177.57 L 146.50 177.59 L 147.20 177.61 L 147.90 177.63 L 148.60 177.65 L 149.30 177.66 L 150.00 177.68 L 150.70 177.70 L 151.40 177.72 L 152.10 177.74 L 152.80 177.75 L 153.50 177.77 L 154.20 177.78 L 154.90 177.80 L 155.60 177.81 L 156.30 177.83 L 157.00 177.84 L 157.70 177.85 L 158.40 177.87 L 159.10 177.88 L 159.80 177.89 L 160.50 177.91 L 161.20 177.92 L 161.90 177.93 L 162.60 177.95 L 163.30 177.96 L 164.00 177.97 L 164.70 177.99 L 165.40 178.00 L 166.10 178.01 L 166.80 178.03 L 167.50 178.04 L 168.20 178.05 L 168.90 178.07 L 169.60 178.08 L 170.30 178.09 L 171.00 178.11 L 171.70 178.12 L 172.40 178.13 L 173.10 178.15 L 173.80 178.16 L 174.50 178.17 L 175.20 178.19 L 175.90 178.20" fill="none" stroke="#8c8c8c" stroke-width="1.3"/>
<path d="M 46.40 210.20 L 47.10 209.77 L 47.80 209.34 L 48.50 208.91 L 49.20 208.48 L 49.90 208.05 L 50.60 207.62 L 51.30 207.19 L 52.00 206.77 L 52.70 206.34 L 53.40 205.91 L 54.10 205.48 L 54.80 205.06 L 55.50 204.63 L 56.20 204.21 L 56.90 203.78 L 57.60 203.35 L 58.30 202.93 L 59.00 202.51 L 59.70 202.08 L 60.40 201.66 L 61.10 201.23 L 61.80 200.80 L 62.50 200.36 L 63.20 199.92 L 63.90 199.48 L 64.60 199.04 L 65.30 198.60 L 66.00 198.16 L 66.70 197.73 L 67.40 197.29 L 68.10 196.86 L 68.80 196.44 L 69.50 196.02 L 70.20 195.60 L 70.90 195.20 L 71.60 194.80 L 72.30 194.41 L 73.00 194.03 L 73.70 193.66 L 74.40 193.29 L 75.10 192.94 L 75.80 192.58 L 76.50 192.23 L 77.20 191.88 L 77.90 191.54 L 78.60 191.20 L 79.30 190.86 L 80.00 190.53 L 80.70 190.20 L 81.40 189.88 L 82.10 189.57 L 82.80 189.26 L 83.50 188.96 L 84.20 188.66 L 84.90 188.38 L 85.60 188.10 L 86.30 187.82 L 87.00 187.56 L 87.70 187.31 L 88.40 187.06 L 89.10 186.82 L 89.80 186.59 L 90.50 186.37 L 91.20 186.15 L 91.90 185.93 L 92.60 185.72 L 93.30 185.52 L 94.00 185.32 L 94.70 185.12 L 95.40 184.93 L 96.10 184.74 L 96.80 184.55 L 97.50 184.36 L 98.20 184.18 L 98.90 183.99 L 99.60 183.81 L 100.30 183.62 L 101.00 183.43 L 101.70 183.25 L 102.40 183.06 L 103.10 182.88 L 103.80 182.69 L 104.50 182.51 L 105.20 182.33 L 105.90 182.15 L 106.60 181.98 L 107.30 181.81 L 108.00 181.64 L 108.70 181.48 L 109.40 181.32 L 110.10 181.17 L 110.80 181.03 L 111.50 180.89 L 112.20 180.76 L 112.90 180.63 L 113.60 180.50 L 114.30 180.37 L 115.00 180.24 L 115.70 180.11 L 116.40 179.98 L 117.10 179.85 L 117.80 179.73 L 118.50 179.62 L 119.20 179.50 L 119.90 179.40 L 120.60 179.30 L 121.30 179.21 L 122.00 179.13 L 122.70 179.06 L 123.40 178.99 L 124.10 178.95 L 124.80 178.91 L 125.50 178.88 L 126.20 178.86 L 126.90 178.83 L 127.60 178.81 L 128.30 178.78 L 129.00 178.76 L 129.70 178.74 L 130.40 178.72 L 131.10 178.70 L 131.80 178.68 L 132.50 178.66 L 133.20 178.64 L 133.90 178.63 L 134.60 178.61 L 135.30 178.60 L 136.00 178.58 L 136.70 178.57 L 137.40 178.55 L 138.10 178.54 L 138.80 178.53 L 139.50 178.52 L 140.20 178.50 L 140.90 178.49 L 141.60 178.48 L 142.30 178.47 L 143.00 178.47 L 143.70 178.46 L 144.40 178.45 L 145.10 178.44 L 145.80 178.43 L 146.50 178.43 L 147.20 178.42 L 147.90 178.42 L 148.60 178.41 L 149.30 178.40 L 150.00 178.40 L 150.70 178.40 L 151.40 178.39 L 152.10 178.39 L 152.80 178.38 L 153.50 178.38 L 154.20 178.37 L 154.90 178.37 L 155.60 178.37 L 156.30 178.36 L 157.00 178.36 L 157.70 178.35 L 158.40 178.35 L 159.10 178.35 L 159.80 178.34 L 160.50 178.34 L 161.20 178.34 L 161.90 178.33 L 162.60 178.33 L 163.30 178.33 L 164.00 178.32 L 164.70 178.32 L 165.40 178.32 L 166.10 178.32 L 166.80 178.32 L 167.50 178.31 L 168.20 178.31 L 168.90 178.31 L 169.60 178.31 L 170.30 178.31 L 171.00 178.30 L 171.70 178.30 L 172.40 178.30 L 173.10 178.30 L 173.80 178.30 L 174.50 178.30 L 175.20 178.30 L 175.90 178.30" fill="none" stroke="#3cb43c" stroke-width="1.2"/>
<path d="M 46.40 246.90 L 47.10 246.03 L 47.80 245.16 L 48.50 244.29 L 49.20 243.42 L 49.90 242.54 L 50.60 241.67 L 51.30 240.79 L 52.00 239.92 L 52.70 239.04 L 53.40 238.16 L 54.10 237.28 L 54.80 236.40 L 55.50 235.52 L 56.20 234.64 L 56.90 233.76 L 57.60 232.87 L 58.30 231.99 L 59.00 231.10 L 59.70 230.22 L 60.40 229.33 L 61.10 228.44 L 61.80 227.55 L 62.50 226.66 L 63.20 225.75 L 63.90 224.84 L 64.60 223.91 L 65.30 222.97 L 66.00 222.04 L 66.70 221.09 L 67.40 220.15 L 68.10 219.22 L 68.80 218.28 L 69.50 217.36 L 70.20 216.44 L 70.90 215.53 L 71.60 214.64 L 72.30 213.77 L 73.00 212.92 L 73.70 212.08 L 74.40 211.27 L 75.10 210.49 L 75.80 209.72 L 76.50 208.96 L 77.20 208.21 L 77.90 207.47 L 78.60 206.74 L 79.30 206.02 L 80.00 205.32 L 80.70 204.63 L 81.40 203.96 L 82.10 203.31 L 82.80 202.67 L 83.50 202.05 L 84.20 201.46 L 84.90 200.88 L 85.60 200.33 L 86.30 199.79 L 87.00 199.27 L 87.70 198.77 L 88.40 198.28 L 89.10 197.81 L 89.80 197.34 L 90.50 196.88 L 91.20 196.43 L 91.90 195.98 L 92.60 195.53 L 93.30 195.09 L 94.00 194.64 L 94.70 194.19 L 95.40 193.74 L 96.10 193.28 L 96.80 192.82 L 97.50 192.35 L 98.20 191.89 L 98.90 191.43 L 99.60 190.97 L 100.30 190.52 L 101.00 190.08 L 101.70 189.65 L 102.40 189.23 L 103.10 188.82 L 103.80 188.43 L 104.50 188.06 L 105.20 187.70 L 105.90 187.35 L 106.60 187.00 L 107.30 186.66 L 108.00 186.32 L 108.70 185.98 L 109.40 185.66 L 110.10 185.34 L 110.80 185.04 L 111.50 184.76 L 112.20 184.49 L 112.90 184.23 L 113.60 184.00 L 114.30 183.79 L 115.00 183.60 L 115.70 183.43 L 116.40 183.26 L 117.10 183.09 L 117.80 182.94 L 118.50 182.79 L 119.20 182.65 L 119.90 182.51 L 120.60 182.38 L 121.30 182.26 L 122.00 182.16 L 122.70 182.06 L 123.40 181.97 L 124.10 181.89 L 124.80 181.82 L 125.50 181.76 L 126.20 181.70 L 126.90 181.65 L 127.60 181.59 L 128.30 181.54 L 129.00 181.49 L 129.70 181.45 L 130.40 181.40 L 131.10 181.36 L 131.80 181.32 L 132.50 181.28 L 133.20 181.25 L 133.90 181.22 L 134.60 181.18 L 135.30 181.15 L 136.00 181.13 L 136.70 181.10 L 137.40 181.07 L 138.10 181.05 L 138.80 181.03 L 139.50 181.01 L 140.20 181.00 L 140.90 180.98 L 141.60 180.96 L 142.30 180.95 L 143.00 180.93 L 143.70 180.91 L 144.40 180.90 L 145.10 180.88 L 145.80 180.87 L 146.50 180.85 L 147.20 180.84 L 147.90 180.82 L 148.60 180.81 L 149.30 180.79 L 150.00 180.78 L 150.70 180.77 L 151.40 180.75 L 152.10 180.74 L 152.80 180.73 L 153.50 180.72 L 154.20 180.70 L 154.90 180.69 L 155.60 180.68 L 156.30 180.67 L 157.00 180.66 L 157.70 180.65 L 158.40 180.64 L 159.10 180.63 L 159.80 180.62 L 160.50 180.61 L 161.20 180.60 L 161.90 180.59 L 162.60 180.58 L 163.30 180.57 L 164.00 180.57 L 164.70 180.56 L 165.40 180.55 L 166.10 180.55 L 166.80 180.54 L 167.50 180.53 L 168.20 180.53 L 168.90 180.52 L 169.60 180.52 L 170.30 180.52 L 171.00 180.51 L 171.70 180.51 L 172.40 180.51 L 173.10 180.50 L 173.80 180.50 L 174.50 180.50 L 175.20 180.50 L 175.90 180.50" fill="none" stroke="#22a022" stroke-width="1.2"/>
<path d="M 46.40 246.60 L 47.10 245.73 L 47.80 244.87 L 48.50 244.00 L 49.20 243.13 L 49.90 242.25 L 50.60 241.38 L 51.30 240.51 L 52.00 239.63 L 52.70 238.76 L 53.40 237.88 L 54.10 237.00 L 54.80 236.12 L 55.50 235.24 L 56.20 234.36 L 56.90 233.47 L 57.60 232.59 L 58.30 231.70 L 59.00 230.81 L 59.70 229.93 L 60.40 229.04 L 61.10 228.15 L 61.80 227.25 L 62.50 226.36 L 63.20 225.45 L 63.90 224.53 L 64.60 223.60 L 65.30 222.67 L 66.00 221.73 L 66.70 220.79 L 67.40 219.85 L 68.10 218.91 L 68.80 217.97 L 69.50 217.04 L 70.20 216.12 L 70.90 215.21 L 71.60 214.31 L 72.30 213.43 L 73.00 212.56 L 73.70 211.72 L 74.40 210.89 L 75.10 210.09 L 75.80 209.30 L 76.50 208.52 L 77.20 207.76 L 77.90 207.00 L 78.60 206.26 L 79.30 205.52 L 80.00 204.80 L 80.70 204.09 L 81.40 203.40 L 82.10 202.71 L 82.80 202.04 L 83.50 201.37 L 84.20 200.73 L 84.90 200.09 L 85.60 199.47 L 86.30 198.86 L 87.00 198.26 L 87.70 197.67 L 88.40 197.10 L 89.10 196.53 L 89.80 195.97 L 90.50 195.42 L 91.20 194.88 L 91.90 194.34 L 92.60 193.80 L 93.30 193.27 L 94.00 192.75 L 94.70 192.22 L 95.40 191.70 L 96.10 191.18 L 96.80 190.65 L 97.50 190.13 L 98.20 189.60 L 98.90 189.09 L 99.60 188.57 L 100.30 188.07 L 101.00 187.57 L 101.70 187.09 L 102.40 186.62 L 103.10 186.16 L 103.80 185.72 L 104.50 185.29 L 105.20 184.88 L 105.90 184.48 L 106.60 184.07 L 107.30 183.67 L 108.00 183.27 L 108.70 182.88 L 109.40 182.50 L 110.10 182.14 L 110.80 181.80 L 111.50 181.48 L 112.20 181.19 L 112.90 180.93 L 113.60 180.71 L 114.30 180.52 L 115.00 180.34 L 115.70 180.17 L 116.40 179.99 L 117.10 179.83 L 117.80 179.67 L 118.50 179.52 L 119.20 179.38 L 119.90 179.24 L 120.60 179.12 L 121.30 179.01 L 122.00 178.92 L 122.70 178.84 L 123.40 178.78 L 124.10 178.73 L 124.80 178.70 L 125.50 178.69 L 126.20 178.68 L 126.90 178.67 L 127.60 178.66 L 128.30 178.65 L 129.00 178.64 L 129.70 178.63 L 130.40 178.62 L 131.10 178.61 L 131.80 178.60 L 132.50 178.59 L 133.20 178.59 L 133.90 178.58 L 134.60 178.57 L 135.30 178.56 L 136.00 178.56 L 136.70 178.55 L 137.40 178.55 L 138.10 178.54 L 138.80 178.54 L 139.50 178.53 L 140.20 178.53 L 140.90 178.52 L 141.60 178.52 L 142.30 178.52 L 143.00 178.51 L 143.70 178.51 L 144.40 178.51 L 145.10 178.51 L 145.80 178.50 L 146.50 178.50 L 147.20 178.50 L 147.90 178.50 L 148.60 178.50 L 149.30 178.50 L 150.00 178.50 L 150.70 178.50 L 151.40 178.50 L 152.10 178.50 L 152.80 178.50 L 153.50 178.50 L 154.20 178.50 L 154.90 178.50 L 155.60 178.50 L 156.30 178.50 L 157.00 178.50 L 157.70 178.51 L 158.40 178.51 L 159.10 178.51 L 159.80 178.51 L 160.50 178.51 L 161.20 178.51 L 161.90 178.51 L 162.60 178.52 L 163.30 178.52 L 164.00 178.52 L 164.70 178.52 L 165.40 178.53 L 166.10 178.53 L 166.80 178.53 L 167.50 178.54 L 168.20 178.54 L 168.90 178.54 L 169.60 178.55 L 170.30 178.55 L 171.00 178.56 L 171.70 178.56 L 172.40 178.57 L 173.10 178.57 L 173.80 178.58 L 174.50 178.59 L 175.20 178.59 L 175.90 178.60" fill="none" stroke="#1a9a1a" stroke-width="1.4"/>
<path d="M 47.63 244.46 L 48.03 242.26 L 48.93 243.86 M 49.80 241.76 L 50.20 238.04 L 51.10 241.16 M 51.58 239.54 L 51.98 236.79 L 52.88 238.94 M 52.93 237.85 L 53.33 235.49 L 54.23 237.25 M 54.90 235.36 L 55.30 233.06 L 56.20 234.76 M 57.37 232.24 L 57.77 230.78 L 58.67 231.64 M 58.41 230.93 L 58.81 230.27 L 59.71 230.33 M 61.12 227.48 L 61.52 226.21 L 62.42 226.88 M 63.00 225.06 L 63.40 222.10 L 64.30 224.46 M 64.57 222.98 L 64.97 221.68 L 65.87 222.38 M 66.30 220.65 L 66.70 218.78 L 67.60 220.05 M 68.18 218.13 L 68.58 217.50 L 69.48 217.53 M 70.05 215.66 L 70.45 212.23 L 71.35 215.06 M 72.15 213.00 L 72.55 212.31 L 73.45 212.40 M 74.10 210.65 L 74.50 209.74 L 75.40 210.05 M 76.05 208.46 L 76.45 206.31 L 77.35 207.86 M 78.40 205.95 L 78.80 204.54 L 79.70 205.35 M 80.09 204.20 L 80.49 202.11 L 81.39 203.60 M 81.82 202.49 L 82.22 200.82 L 83.12 201.89 M 84.09 200.37 L 84.49 198.49 L 85.39 199.77 M 85.22 199.37 L 85.62 198.81 L 86.52 198.77 M 87.06 197.79 L 87.46 196.32 L 88.36 197.19 M 89.41 195.88 L 89.81 194.48 L 90.71 195.28 M 90.74 194.84 L 91.14 192.70 L 92.04 194.24 M 92.64 193.40 L 93.04 192.29 L 93.94 192.80 M 95.01 191.61 L 95.41 190.03 L 96.31 191.01 " fill="none" stroke="#1a9a1a" stroke-width="0.8"/>
<line x1="117.5" y1="209.1" x2="126.6" y2="209.1" stroke="#444" stroke-width="1.4"/>
<text x="131.8" y="212.0" font-size="9.02" text-anchor="start" fill="#222" font-weight="normal" stroke="#222" stroke-width="0.12" textLength="39" lengthAdjust="spacingAndGlyphs" >Carbon cloth</text>
<line x1="117.5" y1="222.7" x2="126.6" y2="222.7" stroke="#2aa02a" stroke-width="1.4"/>
<text x="131.8" y="225.6" font-size="9.02" text-anchor="start" fill="#222" font-weight="normal" stroke="#222" stroke-width="0.12" textLength="34.6" lengthAdjust="spacingAndGlyphs" >N<tspan font-size="6" dy="2">2</tspan><tspan dy="-2"> (1</tspan><tspan font-size="5.6" dy="-2.8">st</tspan><tspan dy="2.8"> test)</tspan></text>
<line x1="117.5" y1="237.5" x2="126.6" y2="237.5" stroke="#9ee09e" stroke-width="1.4" stroke-dasharray="1.2,0.8"/>
<text x="131.8" y="240.4" font-size="9.02" text-anchor="start" fill="#222" font-weight="normal" stroke="#222" stroke-width="0.12" textLength="35" lengthAdjust="spacingAndGlyphs" >N<tspan font-size="6" dy="2">2</tspan><tspan dy="-2"> (2</tspan><tspan font-size="5.6" dy="-2.8">nd</tspan><tspan dy="2.8"> test)</tspan></text>
<line x1="117.5" y1="251.8" x2="126.6" y2="251.8" stroke="#bbb" stroke-width="1.4"/>
<text x="131.8" y="254.70000000000002" font-size="9.02" text-anchor="start" fill="#222" font-weight="normal" stroke="#222" stroke-width="0.12" textLength="6.8" lengthAdjust="spacingAndGlyphs" >Ar</text>
<text x="190.5" y="162.7" font-size="13.6" text-anchor="start" fill="#111" font-weight="bold" stroke="#111" stroke-width="0.25" textLength="7.4" lengthAdjust="spacingAndGlyphs" >d</text>
<text x="199.7" y="162.7" font-size="13.4" text-anchor="start" fill="#111" font-weight="bold" stroke="#111" stroke-width="0.25" textLength="4.4" lengthAdjust="spacingAndGlyphs" >)</text>
<rect x="218" y="161" width="47.7" height="103.6" fill="#d3ecc8"/>
<rect x="265.7" y="161" width="47.6" height="103.6" fill="#d3ecc8"/>
<rect x="313.3" y="161" width="48" height="103.6" fill="#e7e7e7"/>
<line x1="265.7" y1="161" x2="265.7" y2="264.6" stroke="#6a7a6a" stroke-width="0.9"/>
<line x1="313.3" y1="161" x2="313.3" y2="264.6" stroke="#6a7a6a" stroke-width="0.9"/>
<line x1="218" y1="251.2" x2="361" y2="251.2" stroke="#9a9a9a" stroke-width="0.7"/>
<line x1="217.2" y1="161.1" x2="361.6" y2="161.1" stroke="#1a1a1a" stroke-width="2"/>
<line x1="218.0" y1="160.2" x2="218.0" y2="265" stroke="#1a1a1a" stroke-width="1.6"/>
<line x1="361.3" y1="160.2" x2="361.3" y2="265.2" stroke="#444" stroke-width="1.4"/>
<line x1="217.2" y1="265.4" x2="354" y2="265.4" stroke="#000" stroke-width="3"/>
<path d="M 352 262.4 L 362 265.3 L 352 268.6 L 353.5 265.4 Z" fill="#000"/>
<line x1="214.79999999999998" y1="262.60" x2="218" y2="262.60" stroke="#222" stroke-width="0.9"/>
<line x1="216.0" y1="256.90" x2="218" y2="256.90" stroke="#222" stroke-width="0.9"/>
<line x1="214.79999999999998" y1="251.20" x2="218" y2="251.20" stroke="#222" stroke-width="0.9"/>
<text x="214.3" y="253.6" font-size="7.48" text-anchor="end" fill="#222" font-weight="normal" stroke="#222" stroke-width="0.12" >0</text>
<line x1="216.0" y1="245.50" x2="218" y2="245.50" stroke="#222" stroke-width="0.9"/>
<line x1="214.79999999999998" y1="239.80" x2="218" y2="239.80" stroke="#222" stroke-width="0.9"/>
<text x="214.3" y="242.2" font-size="7.48" text-anchor="end" fill="#222" font-weight="normal" stroke="#222" stroke-width="0.12" >20</text>
<line x1="216.0" y1="234.10" x2="218" y2="234.10" stroke="#222" stroke-width="0.9"/>
<line x1="214.79999999999998" y1="228.40" x2="218" y2="228.40" stroke="#222" stroke-width="0.9"/>
<text x="214.3" y="230.79999999999998" font-size="7.48" text-anchor="end" fill="#222" font-weight="normal" stroke="#222" stroke-width="0.12" >40</text>
<line x1="216.0" y1="222.70" x2="218" y2="222.70" stroke="#222" stroke-width="0.9"/>
<line x1="214.79999999999998" y1="217.00" x2="218" y2="217.00" stroke="#222" stroke-width="0.9"/>
<text x="214.3" y="219.4" font-size="7.48" text-anchor="end" fill="#222" font-weight="normal" stroke="#222" stroke-width="0.12" >60</text>
<line x1="216.0" y1="211.30" x2="218" y2="211.30" stroke="#222" stroke-width="0.9"/>
<line x1="214.79999999999998" y1="205.60" x2="218" y2="205.60" stroke="#222" stroke-width="0.9"/>
<text x="214.3" y="207.99999999999997" font-size="7.48" text-anchor="end" fill="#222" font-weight="normal" stroke="#222" stroke-width="0.12" >80</text>
<line x1="216.0" y1="199.90" x2="218" y2="199.90" stroke="#222" stroke-width="0.9"/>
<line x1="214.79999999999998" y1="194.20" x2="218" y2="194.20" stroke="#222" stroke-width="0.9"/>
<text x="214.3" y="196.6" font-size="7.48" text-anchor="end" fill="#222" font-weight="normal" stroke="#222" stroke-width="0.12" >100</text>
<line x1="216.0" y1="188.50" x2="218" y2="188.50" stroke="#222" stroke-width="0.9"/>
<line x1="214.79999999999998" y1="182.80" x2="218" y2="182.80" stroke="#222" stroke-width="0.9"/>
<text x="214.3" y="185.2" font-size="7.48" text-anchor="end" fill="#222" font-weight="normal" stroke="#222" stroke-width="0.12" >120</text>
<line x1="216.0" y1="177.10" x2="218" y2="177.10" stroke="#222" stroke-width="0.9"/>
<line x1="214.79999999999998" y1="171.40" x2="218" y2="171.40" stroke="#222" stroke-width="0.9"/>
<text x="214.3" y="173.79999999999998" font-size="7.48" text-anchor="end" fill="#222" font-weight="normal" stroke="#222" stroke-width="0.12" >140</text>
<line x1="216.0" y1="165.70" x2="218" y2="165.70" stroke="#222" stroke-width="0.9"/>
<rect x="221.0" y="217.40" width="6.00" height="33.80" fill="#1f1fff"/>
<rect x="230.0" y="251.20" width="5.70" height="5.90" fill="#8e1a8e"/>
<rect x="247.2" y="245.70" width="6.00" height="5.50" fill="#ff2020"/>
<rect x="255.5" y="201.00" width="6.00" height="50.20" fill="#108010"/>
<rect x="270.0" y="224.30" width="5.80" height="26.90" fill="#1f1fff"/>
<rect x="278.6" y="251.20" width="5.70" height="8.00" fill="#8e1a8e"/>
<rect x="287.5" y="251.20" width="5.40" height="2.00" fill="#9a1040"/>
<rect x="295.5" y="243.60" width="5.70" height="7.60" fill="#ff2020"/>
<rect x="304.1" y="207.10" width="6.40" height="44.10" fill="#108010"/>
<rect x="318.4" y="228.70" width="5.70" height="22.50" fill="#1f1fff"/>
<rect x="327.3" y="251.20" width="5.70" height="5.80" fill="#8e1a8e"/>
<rect x="335.5" y="236.30" width="5.80" height="14.90" fill="#9a1040"/>
<rect x="344.1" y="251.20" width="6.10" height="4.80" fill="#ff2020"/>
<rect x="352.7" y="210.30" width="5.80" height="40.90" fill="#108010"/>
<text x="228.0" y="170.6" font-size="8.14" text-anchor="start" fill="#222" font-weight="normal" stroke="#222" stroke-width="0.12" textLength="7.2" lengthAdjust="spacingAndGlyphs" >Nb</text>
<text x="235.5" y="172.3" font-size="5.5" text-anchor="start" fill="#222" font-weight="normal" stroke="#222" stroke-width="0.12" textLength="2.5" lengthAdjust="spacingAndGlyphs" >4</text>
<text x="237.4" y="170.6" font-size="8.14" text-anchor="start" fill="#222" font-weight="normal" stroke="#222" stroke-width="0.12" textLength="5.1" lengthAdjust="spacingAndGlyphs" >N</text>
<text x="241.9" y="172.3" font-size="5.5" text-anchor="start" fill="#222" font-weight="normal" stroke="#222" stroke-width="0.12" textLength="2.4" lengthAdjust="spacingAndGlyphs" >5</text>
<text x="246.2" y="168.0" font-size="5.5" text-anchor="start" fill="#222" font-weight="normal" stroke="#222" stroke-width="0.12" textLength="7.6" lengthAdjust="spacingAndGlyphs" >700</text>
<text x="253.6" y="170.6" font-size="8.14" text-anchor="start" fill="#222" font-weight="normal" stroke="#222" stroke-width="0.12" textLength="11.4" lengthAdjust="spacingAndGlyphs" >/CC</text>
<rect x="268.2" y="165.9" width="2.8" height="2.8" fill="#1f1fff"/>
<text x="275.09999999999997" y="169.60000000000002" font-size="7.7" text-anchor="start" fill="#222" font-weight="normal" stroke="#222" stroke-width="0.12" textLength="24.6" lengthAdjust="spacingAndGlyphs" >after CVA</text>
<rect x="268.2" y="175.0" width="2.8" height="2.8" fill="#8e1a8e"/>
<text x="275.09999999999997" y="178.70000000000002" font-size="7.7" text-anchor="start" fill="#222" font-weight="normal" stroke="#222" stroke-width="0.12" textLength="37.2" lengthAdjust="spacingAndGlyphs" >-0.3 V vs. RHE</text>
<rect x="268.2" y="185.0" width="2.8" height="2.8" fill="#9a1040"/>
<text x="275.09999999999997" y="188.70000000000002" font-size="7.7" text-anchor="start" fill="#222" font-weight="normal" stroke="#222" stroke-width="0.12" textLength="37.2" lengthAdjust="spacingAndGlyphs" >-0.4 V vs. RHE</text>
<rect x="314.2" y="165.9" width="2.8" height="2.8" fill="#ff2020"/>
<text x="320.5" y="169.60000000000002" font-size="7.7" text-anchor="start" fill="#222" font-weight="normal" stroke="#222" stroke-width="0.12" textLength="37.0" lengthAdjust="spacingAndGlyphs" >-0.5 V vs. RHE</text>
<rect x="314.2" y="175.0" width="2.8" height="2.8" fill="#108010"/>
<text x="320.5" y="178.70000000000002" font-size="7.7" text-anchor="start" fill="#222" font-weight="normal" stroke="#222" stroke-width="0.12" textLength="36.4" lengthAdjust="spacingAndGlyphs" >&#8220;adsorbed&#8221; NH</text>
<text x="356.9" y="180.0" font-size="5.5" text-anchor="start" fill="#222" font-weight="normal" stroke="#222" stroke-width="0.12" textLength="2.6" lengthAdjust="spacingAndGlyphs" >3</text>
<text x="259.8" y="279.0" font-size="8.8" text-anchor="start" fill="#222" font-weight="normal" stroke="#222" stroke-width="0.12" textLength="59.8" lengthAdjust="spacingAndGlyphs" >Experiment timeline</text>
<text x="0" y="0" font-size="8" fill="#222" stroke="#222" stroke-width="0.12" text-anchor="middle" textLength="80" lengthAdjust="spacingAndGlyphs" transform="translate(198.8,215.5) rotate(-90)">NH<tspan font-size="5.2" dy="1.8">3</tspan><tspan dy="-1.8"> yield / mmol mol</tspan><tspan font-size="5.2" dy="1.8">cat</tspan><tspan font-size="5.2" dy="-4.6">-1</tspan></text>
<text x="371.3" y="13.2" font-size="13.6" text-anchor="start" fill="#111" font-weight="bold" stroke="#111" stroke-width="0.25" textLength="7.4" lengthAdjust="spacingAndGlyphs" >e</text>
<text x="379.1" y="12.9" font-size="13.4" text-anchor="start" fill="#111" font-weight="bold" stroke="#111" stroke-width="0.25" textLength="4.4" lengthAdjust="spacingAndGlyphs" >)</text>
<rect x="391.8" y="9.5" width="150.3" height="237.75" fill="none" stroke="#2a2a2a" stroke-width="1.3"/>
<line x1="403.20" y1="247.2" x2="403.20" y2="250.0" stroke="#2a2a2a" stroke-width="1"/>
<text x="403.2" y="258.5" font-size="8.36" text-anchor="middle" fill="#333" font-weight="normal" stroke="#333" stroke-width="0.12" >212</text>
<line x1="414.65" y1="247.2" x2="414.65" y2="249.2" stroke="#2a2a2a" stroke-width="1"/>
<line x1="426.10" y1="247.2" x2="426.10" y2="250.0" stroke="#2a2a2a" stroke-width="1"/>
<text x="426.09999999999997" y="258.5" font-size="8.36" text-anchor="middle" fill="#333" font-weight="normal" stroke="#333" stroke-width="0.12" >210</text>
<line x1="437.55" y1="247.2" x2="437.55" y2="249.2" stroke="#2a2a2a" stroke-width="1"/>
<line x1="449.00" y1="247.2" x2="449.00" y2="250.0" stroke="#2a2a2a" stroke-width="1"/>
<text x="449.0" y="258.5" font-size="8.36" text-anchor="middle" fill="#333" font-weight="normal" stroke="#333" stroke-width="0.12" >208</text>
<line x1="460.45" y1="247.2" x2="460.45" y2="249.2" stroke="#2a2a2a" stroke-width="1"/>
<line x1="471.90" y1="247.2" x2="471.90" y2="250.0" stroke="#2a2a2a" stroke-width="1"/>
<text x="471.9" y="258.5" font-size="8.36" text-anchor="middle" fill="#333" font-weight="normal" stroke="#333" stroke-width="0.12" >206</text>
<line x1="483.35" y1="247.2" x2="483.35" y2="249.2" stroke="#2a2a2a" stroke-width="1"/>
<line x1="494.80" y1="247.2" x2="494.80" y2="250.0" stroke="#2a2a2a" stroke-width="1"/>
<text x="494.79999999999995" y="258.5" font-size="8.36" text-anchor="middle" fill="#333" font-weight="normal" stroke="#333" stroke-width="0.12" >204</text>
<line x1="506.25" y1="247.2" x2="506.25" y2="249.2" stroke="#2a2a2a" stroke-width="1"/>
<line x1="517.70" y1="247.2" x2="517.70" y2="250.0" stroke="#2a2a2a" stroke-width="1"/>
<text x="517.7" y="258.5" font-size="8.36" text-anchor="middle" fill="#333" font-weight="normal" stroke="#333" stroke-width="0.12" >202</text>
<line x1="529.15" y1="247.2" x2="529.15" y2="249.2" stroke="#2a2a2a" stroke-width="1"/>
<line x1="540.60" y1="247.2" x2="540.60" y2="250.0" stroke="#2a2a2a" stroke-width="1"/>
<text x="466.4" y="271.4" font-size="9.46" text-anchor="middle" fill="#333" font-weight="normal" stroke="#333" stroke-width="0.12" textLength="64" lengthAdjust="spacingAndGlyphs" >Binding energy / eV</text>
<text x="404.8" y="23.2" font-size="13.2" text-anchor="start" fill="#222" font-weight="normal" stroke="#222" stroke-width="0.12" textLength="26.8" lengthAdjust="spacingAndGlyphs" >Nb 3d</text>
<text x="472.8" y="28.4" font-size="9.02" text-anchor="start" fill="#333" font-weight="normal" stroke="#333" stroke-width="0.12" textLength="36.4" lengthAdjust="spacingAndGlyphs" >Nb-N &amp; Nb-C</text>
<text x="412.4" y="53.9" font-size="8.36" text-anchor="start" fill="#333" font-weight="normal" stroke="#333" stroke-width="0.12" textLength="15.0" lengthAdjust="spacingAndGlyphs" >Nb-O</text>
<text x="536.9" y="63.4" font-size="8.14" text-anchor="end" fill="#333" font-weight="normal" stroke="#333" stroke-width="0.12" textLength="30.2" lengthAdjust="spacingAndGlyphs" >pre-treated</text>
<text x="536.9" y="71.0" font-size="8.14" text-anchor="end" fill="#333" font-weight="normal" stroke="#333" stroke-width="0.12" textLength="12.4" lengthAdjust="spacingAndGlyphs" >NbN</text>
<text x="536.8" y="115.3" font-size="8.14" text-anchor="end" fill="#333" font-weight="normal" stroke="#333" stroke-width="0.12" textLength="25.6" lengthAdjust="spacingAndGlyphs" >untreated</text>
<text x="536.8" y="122.9" font-size="8.14" text-anchor="end" fill="#333" font-weight="normal" stroke="#333" stroke-width="0.12" textLength="12.4" lengthAdjust="spacingAndGlyphs" >NbN</text>
<text x="501.40000000000003" y="165.4" font-size="7.92" text-anchor="start" fill="#333" font-weight="normal" stroke="#333" stroke-width="0.12" textLength="35.8" lengthAdjust="spacingAndGlyphs" >Nb<tspan font-size="4.8" dy="1.6">4</tspan><tspan dy="-1.6">N</tspan><tspan font-size="4.8" dy="1.6">5</tspan><tspan font-size="4.8" dy="-4.6">700</tspan><tspan dy="3">/CC</tspan></text>
<text x="520.9" y="176.0" font-size="7.92" text-anchor="start" fill="#333" font-weight="normal" stroke="#333" stroke-width="0.12" textLength="16.6" lengthAdjust="spacingAndGlyphs" >(after)</text>
<text x="501.40000000000003" y="221.6" font-size="7.92" text-anchor="start" fill="#333" font-weight="normal" stroke="#333" stroke-width="0.12" textLength="35.8" lengthAdjust="spacingAndGlyphs" >Nb<tspan font-size="4.8" dy="1.6">4</tspan><tspan dy="-1.6">N</tspan><tspan font-size="4.8" dy="1.6">5</tspan><tspan font-size="4.8" dy="-4.6">700</tspan><tspan dy="3">/CC</tspan></text>
<text x="516.9" y="232.2" font-size="7.92" text-anchor="start" fill="#333" font-weight="normal" stroke="#333" stroke-width="0.12" textLength="20.6" lengthAdjust="spacingAndGlyphs" >(before)</text>
<path d="M 392.40 73.01 L 393.10 73.03 L 393.80 73.06 L 394.50 73.08 L 395.20 73.10 L 395.90 73.12 L 396.60 73.14 L 397.30 73.17 L 398.00 73.19 L 398.70 73.21 L 399.40 73.23 L 400.10 73.25 L 400.80 73.27 L 401.50 73.30 L 402.20 73.32 L 402.90 73.34 L 403.60 73.36 L 404.30 73.38 L 405.00 73.41 L 405.70 73.43 L 406.40 73.45 L 407.10 73.47 L 407.80 73.49 L 408.50 73.52 L 409.20 73.54 L 409.90 73.56 L 410.60 73.58 L 411.30 73.60 L 412.00 73.62 L 412.70 73.65 L 413.40 73.67 L 414.10 73.69 L 414.80 73.71 L 415.50 73.73 L 416.20 73.76 L 416.90 73.78 L 417.60 73.80 L 418.30 73.82 L 419.00 73.84 L 419.70 73.87 L 420.40 73.89 L 421.10 73.91 L 421.80 73.93 L 422.50 73.95 L 423.20 73.97 L 423.90 74.00 L 424.60 74.02 L 425.30 74.04 L 426.00 74.06 L 426.70 74.08 L 427.40 74.11 L 428.10 74.13 L 428.80 74.15 L 429.50 74.17 L 430.20 74.19 L 430.90 74.22 L 431.60 74.24 L 432.30 74.26 L 433.00 74.28 L 433.70 74.30 L 434.40 74.32 L 435.10 74.35 L 435.80 74.37 L 436.50 74.39 L 437.20 74.41 L 437.90 74.43 L 438.60 74.46 L 439.30 74.48 L 440.00 74.50 L 440.70 74.53 L 441.40 74.56 L 442.10 74.59 L 442.80 74.62 L 443.50 74.65 L 444.20 74.67 L 444.90 74.70 L 445.60 74.73 L 446.30 74.76 L 447.00 74.79 L 447.70 74.82 L 448.40 74.85 L 449.10 74.88 L 449.80 74.91 L 450.50 74.94 L 451.20 74.97 L 451.90 74.99 L 452.60 75.02 L 453.30 75.05 L 454.00 75.08 L 454.70 75.11 L 455.40 75.14 L 456.10 75.17 L 456.80 75.20 L 457.50 75.23 L 458.20 75.26 L 458.90 75.29 L 459.60 75.31 L 460.30 75.34 L 461.00 75.37 L 461.70 75.40 L 462.40 75.43 L 463.10 75.46 L 463.80 75.49 L 464.50 75.52 L 465.20 75.55 L 465.90 75.58 L 466.60 75.60 L 467.30 75.63 L 468.00 75.66 L 468.70 75.69 L 469.40 75.72 L 470.10 75.75 L 470.80 75.78 L 471.50 75.81 L 472.20 75.84 L 472.90 75.87 L 473.60 75.90 L 474.30 75.92 L 475.00 75.95 L 475.70 75.98 L 476.40 76.01 L 477.10 76.04 L 477.80 76.07 L 478.50 76.10 L 479.20 76.13 L 479.90 76.16 L 480.60 76.19 L 481.30 76.22 L 482.00 76.24 L 482.70 76.27 L 483.40 76.30 L 484.10 76.33 L 484.80 76.36 L 485.50 76.39 L 486.20 76.42 L 486.90 76.45 L 487.60 76.48 L 488.30 76.51 L 489.00 76.54 L 489.70 76.56 L 490.40 76.59 L 491.10 76.62 L 491.80 76.65 L 492.50 76.68 L 493.20 76.71 L 493.90 76.74 L 494.60 76.77 L 495.30 76.80 L 496.00 76.83 L 496.70 76.86 L 497.40 76.88 L 498.10 76.91 L 498.80 76.94 L 499.50 76.97 L 500.20 77.00 L 500.90 77.03 L 501.60 77.06 L 502.30 77.09 L 503.00 77.12 L 503.70 77.15 L 504.40 77.18 L 505.10 77.20 L 505.80 77.22 L 506.50 77.24 L 507.20 77.26 L 507.90 77.28 L 508.60 77.30 L 509.30 77.32 L 510.00 77.34 L 510.70 77.36 L 511.40 77.38 L 512.10 77.40 L 512.80 77.42 L 513.50 77.44 L 514.20 77.46 L 514.90 77.47 L 515.60 77.49 L 516.30 77.51 L 517.00 77.53 L 517.70 77.55 L 518.40 77.57 L 519.10 77.59 L 519.80 77.61 L 520.50 77.63 L 521.20 77.65 L 521.90 77.67 L 522.60 77.69 L 523.30 77.71 L 524.00 77.73 L 524.70 77.75 L 525.40 77.77 L 526.10 77.79 L 526.80 77.81 L 527.50 77.82 L 528.20 77.84 L 528.90 77.86 L 529.60 77.88 L 530.30 77.90 L 531.00 77.92 L 531.70 77.94 L 532.40 77.96 L 533.10 77.98 L 533.80 78.00 L 534.50 78.02 L 535.20 78.04 L 535.90 78.06 L 536.60 78.08 L 537.30 78.10 L 538.00 78.12 L 538.70 78.14 L 539.40 78.16 L 540.10 78.17 L 540.80 78.19" fill="none" stroke="#3cb83c" stroke-width="0.9"/>
<path d="M 394.50 73.02 L 395.20 73.02 L 395.90 73.02 L 396.60 73.00 L 397.30 72.98 L 398.00 72.94 L 398.70 72.89 L 399.40 72.82 L 400.10 72.73 L 400.80 72.61 L 401.50 72.47 L 402.20 72.29 L 402.90 72.07 L 403.60 71.82 L 404.30 71.52 L 405.00 71.18 L 405.70 70.80 L 406.40 70.37 L 407.10 69.90 L 407.80 69.38 L 408.50 68.83 L 409.20 68.25 L 409.90 67.65 L 410.60 67.04 L 411.30 66.43 L 412.00 65.83 L 412.70 65.25 L 413.40 64.72 L 414.10 64.24 L 414.80 63.82 L 415.50 63.48 L 416.20 63.23 L 416.90 63.07 L 417.60 63.02 L 418.30 63.06 L 419.00 63.21 L 419.70 63.45 L 420.40 63.78 L 421.10 64.20 L 421.80 64.69 L 422.50 65.24 L 423.20 65.83 L 423.90 66.46 L 424.60 67.11 L 425.30 67.77 L 426.00 68.42 L 426.70 69.06 L 427.40 69.67 L 428.10 70.25 L 428.80 70.79 L 429.50 71.29 L 430.20 71.75 L 430.90 72.15 L 431.60 72.52 L 432.30 72.84 L 433.00 73.12 L 433.70 73.36 L 434.40 73.57 L 435.10 73.75 L 435.80 73.89 L 436.50 74.02 L 437.20 74.13 L 437.90 74.22 L 438.60 74.29 L 439.30 74.35 L 440.00 74.41 L 440.70 74.46 L 441.40 74.51" fill="none" stroke="#5a5a5a" stroke-width="0.9"/>
<path d="M 410.60 73.52 L 411.30 73.52 L 412.00 73.52 L 412.70 73.51 L 413.40 73.50 L 414.10 73.48 L 414.80 73.44 L 415.50 73.40 L 416.20 73.34 L 416.90 73.27 L 417.60 73.18 L 418.30 73.07 L 419.00 72.94 L 419.70 72.79 L 420.40 72.62 L 421.10 72.43 L 421.80 72.21 L 422.50 71.96 L 423.20 71.69 L 423.90 71.41 L 424.60 71.10 L 425.30 70.77 L 426.00 70.43 L 426.70 70.09 L 427.40 69.74 L 428.10 69.39 L 428.80 69.05 L 429.50 68.72 L 430.20 68.42 L 430.90 68.14 L 431.60 67.89 L 432.30 67.69 L 433.00 67.53 L 433.70 67.42 L 434.40 67.35 L 435.10 67.35 L 435.80 67.39 L 436.50 67.49 L 437.20 67.64 L 437.90 67.84 L 438.60 68.09 L 439.30 68.37 L 440.00 68.69 L 440.70 69.04 L 441.40 69.42 L 442.10 69.81 L 442.80 70.21 L 443.50 70.61 L 444.20 71.01 L 444.90 71.40 L 445.60 71.78 L 446.30 72.14 L 447.00 72.48 L 447.70 72.80 L 448.40 73.10 L 449.10 73.37 L 449.80 73.62 L 450.50 73.84 L 451.20 74.05 L 451.90 74.23 L 452.60 74.39 L 453.30 74.53 L 454.00 74.66 L 454.70 74.77 L 455.40 74.86 L 456.10 74.95 L 456.80 75.02 L 457.50 75.09 L 458.20 75.15 L 458.90 75.20 L 459.60 75.25" fill="none" stroke="#5cc45c" stroke-width="0.9"/>
<path d="M 425.30 73.98 L 426.00 73.98 L 426.70 73.98 L 427.40 73.97 L 428.10 73.95 L 428.80 73.92 L 429.50 73.87 L 430.20 73.81 L 430.90 73.74 L 431.60 73.64 L 432.30 73.51 L 433.00 73.36 L 433.70 73.17 L 434.40 72.95 L 435.10 72.69 L 435.80 72.38 L 436.50 72.03 L 437.20 71.62 L 437.90 71.17 L 438.60 70.67 L 439.30 70.11 L 440.00 69.50 L 440.70 68.86 L 441.40 68.17 L 442.10 67.45 L 442.80 66.70 L 443.50 65.93 L 444.20 65.15 L 444.90 64.38 L 445.60 63.63 L 446.30 62.90 L 447.00 62.23 L 447.70 61.61 L 448.40 61.07 L 449.10 60.61 L 449.80 60.25 L 450.50 59.99 L 451.20 59.84 L 451.90 59.80 L 452.60 59.89 L 453.30 60.08 L 454.00 60.39 L 454.70 60.80 L 455.40 61.31 L 456.10 61.91 L 456.80 62.58 L 457.50 63.31 L 458.20 64.08 L 458.90 64.89 L 459.60 65.72 L 460.30 66.55 L 461.00 67.38 L 461.70 68.19 L 462.40 68.98 L 463.10 69.73 L 463.80 70.44 L 464.50 71.10 L 465.20 71.71 L 465.90 72.27 L 466.60 72.78 L 467.30 73.23 L 468.00 73.64 L 468.70 74.00 L 469.40 74.32 L 470.10 74.60 L 470.80 74.84 L 471.50 75.05 L 472.20 75.22 L 472.90 75.38 L 473.60 75.51 L 474.30 75.62 L 475.00 75.72 L 475.70 75.80 L 476.40 75.87 L 477.10 75.93 L 477.80 75.99 L 478.50 76.04" fill="none" stroke="#5a5a5a" stroke-width="0.9"/>
<path d="M 434.40 74.27 L 435.10 74.27 L 435.80 74.27 L 436.50 74.25 L 437.20 74.22 L 437.90 74.17 L 438.60 74.10 L 439.30 74.01 L 440.00 73.88 L 440.70 73.72 L 441.40 73.51 L 442.10 73.25 L 442.80 72.92 L 443.50 72.52 L 444.20 72.03 L 444.90 71.44 L 445.60 70.75 L 446.30 69.95 L 447.00 69.04 L 447.70 68.00 L 448.40 66.84 L 449.10 65.57 L 449.80 64.18 L 450.50 62.71 L 451.20 61.15 L 451.90 59.54 L 452.60 57.90 L 453.30 56.25 L 454.00 54.65 L 454.70 53.11 L 455.40 51.68 L 456.10 50.39 L 456.80 49.28 L 457.50 48.38 L 458.20 47.71 L 458.90 47.29 L 459.60 47.14 L 460.30 47.25 L 461.00 47.64 L 461.70 48.28 L 462.40 49.16 L 463.10 50.26 L 463.80 51.54 L 464.50 52.98 L 465.20 54.54 L 465.90 56.19 L 466.60 57.88 L 467.30 59.58 L 468.00 61.27 L 468.70 62.90 L 469.40 64.47 L 470.10 65.95 L 470.80 67.32 L 471.50 68.58 L 472.20 69.71 L 472.90 70.73 L 473.60 71.63 L 474.30 72.42 L 475.00 73.10 L 475.70 73.68 L 476.40 74.17 L 477.10 74.58 L 477.80 74.93 L 478.50 75.21 L 479.20 75.45 L 479.90 75.64 L 480.60 75.79 L 481.30 75.92 L 482.00 76.03 L 482.70 76.11 L 483.40 76.19 L 484.10 76.25 L 484.80 76.30" fill="none" stroke="#7dd87d" stroke-width="0.9"/>
<path d="M 457.50 75.17 L 458.20 75.17 L 458.90 75.17 L 459.60 75.16 L 460.30 75.14 L 461.00 75.10 L 461.70 75.04 L 462.40 74.96 L 463.10 74.86 L 463.80 74.74 L 464.50 74.59 L 465.20 74.41 L 465.90 74.21 L 466.60 73.98 L 467.30 73.73 L 468.00 73.46 L 468.70 73.17 L 469.40 72.89 L 470.10 72.61 L 470.80 72.34 L 471.50 72.10 L 472.20 71.89 L 472.90 71.72 L 473.60 71.60 L 474.30 71.54 L 475.00 71.54 L 475.70 71.60 L 476.40 71.72 L 477.10 71.89 L 477.80 72.12 L 478.50 72.39 L 479.20 72.69 L 479.90 73.01 L 480.60 73.35 L 481.30 73.70 L 482.00 74.04 L 482.70 74.37 L 483.40 74.68 L 484.10 74.96 L 484.80 75.23 L 485.50 75.46 L 486.20 75.67 L 486.90 75.85 L 487.60 76.01 L 488.30 76.14 L 489.00 76.26 L 489.70 76.36 L 490.40 76.44 L 491.10 76.51 L 491.80 76.57 L 492.50 76.62" fill="none" stroke="#5cc45c" stroke-width="0.9"/>
<path d="M 465.20 75.49 L 465.90 75.49 L 466.60 75.48 L 467.30 75.46 L 468.00 75.42 L 468.70 75.35 L 469.40 75.26 L 470.10 75.12 L 470.80 74.94 L 471.50 74.70 L 472.20 74.38 L 472.90 73.98 L 473.60 73.47 L 474.30 72.84 L 475.00 72.08 L 475.70 71.17 L 476.40 70.09 L 477.10 68.83 L 477.80 67.38 L 478.50 65.74 L 479.20 63.91 L 479.90 61.90 L 480.60 59.73 L 481.30 57.41 L 482.00 54.99 L 482.70 52.49 L 483.40 49.99 L 484.10 47.51 L 484.80 45.14 L 485.50 42.91 L 486.20 40.91 L 486.90 39.17 L 487.60 37.77 L 488.30 36.73 L 489.00 36.09 L 489.70 35.87 L 490.40 36.09 L 491.10 36.73 L 491.80 37.77 L 492.50 39.19 L 493.20 40.94 L 493.90 42.97 L 494.60 45.22 L 495.30 47.64 L 496.00 50.16 L 496.70 52.72 L 497.40 55.28 L 498.10 57.77 L 498.80 60.16 L 499.50 62.42 L 500.20 64.51 L 500.90 66.42 L 501.60 68.15 L 502.30 69.68 L 503.00 71.02 L 503.70 72.19 L 504.40 73.18 L 505.10 74.02 L 505.80 74.71 L 506.50 75.28 L 507.20 75.75 L 507.90 76.13 L 508.60 76.43 L 509.30 76.67 L 510.00 76.86 L 510.70 77.01 L 511.40 77.12 L 512.10 77.21 L 512.80 77.29 L 513.50 77.34 L 514.20 77.39" fill="none" stroke="#4c7a2a" stroke-width="0.9"/>
<path d="M 392.40 72.99 L 393.10 73.00 L 393.80 73.01 L 394.50 73.02 L 395.20 73.02 L 395.90 73.02 L 396.60 73.00 L 397.30 72.98 L 398.00 72.94 L 398.70 72.89 L 399.40 72.82 L 400.10 72.73 L 400.80 72.61 L 401.50 72.46 L 402.20 72.29 L 402.90 72.07 L 403.60 71.82 L 404.30 71.52 L 405.00 71.18 L 405.70 70.79 L 406.40 70.36 L 407.10 69.88 L 407.80 69.36 L 408.50 68.81 L 409.20 68.22 L 409.90 67.60 L 410.60 66.98 L 411.30 66.35 L 412.00 65.72 L 412.70 65.12 L 413.40 64.55 L 414.10 64.02 L 414.80 63.55 L 415.50 63.15 L 416.20 62.82 L 416.90 62.56 L 417.60 62.39 L 418.30 62.31 L 419.00 62.30 L 419.70 62.37 L 420.40 62.51 L 421.10 62.70 L 421.80 62.95 L 422.50 63.23 L 423.20 63.53 L 423.90 63.84 L 424.60 64.15 L 425.30 64.44 L 426.00 64.71 L 426.70 64.96 L 427.40 65.16 L 428.10 65.33 L 428.80 65.45 L 429.50 65.54 L 430.20 65.58 L 430.90 65.59 L 431.60 65.56 L 432.30 65.50 L 433.00 65.42 L 433.70 65.31 L 434.40 65.17 L 435.10 65.01 L 435.80 64.83 L 436.50 64.62 L 437.20 64.37 L 437.90 64.10 L 438.60 63.78 L 439.30 63.41 L 440.00 62.98 L 440.70 62.49 L 441.40 61.93 L 442.10 61.29 L 442.80 60.56 L 443.50 59.74 L 444.20 58.82 L 444.90 57.80 L 445.60 56.68 L 446.30 55.47 L 447.00 54.16 L 447.70 52.77 L 448.40 51.31 L 449.10 49.79 L 449.80 48.23 L 450.50 46.66 L 451.20 45.10 L 451.90 43.58 L 452.60 42.12 L 453.30 40.76 L 454.00 39.52 L 454.70 38.45 L 455.40 37.56 L 456.10 36.88 L 456.80 36.45 L 457.50 36.26 L 458.20 36.35 L 458.90 36.70 L 459.60 37.32 L 460.30 38.20 L 461.00 39.33 L 461.70 40.67 L 462.40 42.21 L 463.10 43.89 L 463.80 45.70 L 464.50 47.58 L 465.20 49.50 L 465.90 51.42 L 466.60 53.30 L 467.30 55.10 L 468.00 56.79 L 468.70 58.36 L 469.40 59.77 L 470.10 61.03 L 470.80 62.10 L 471.50 62.99 L 472.20 63.69 L 472.90 64.21 L 473.60 64.53 L 474.30 64.65 L 475.00 64.57 L 475.70 64.30 L 476.40 63.81 L 477.10 63.11 L 477.80 62.20 L 478.50 61.08 L 479.20 59.74 L 479.90 58.20 L 480.60 56.48 L 481.30 54.58 L 482.00 52.55 L 482.70 50.42 L 483.40 48.24 L 484.10 46.06 L 484.80 43.94 L 485.50 41.94 L 486.20 40.13 L 486.90 38.56 L 487.60 37.28 L 488.30 36.36 L 489.00 35.81 L 489.70 35.66 L 490.40 35.93 L 491.10 36.61 L 491.80 37.69 L 492.50 39.13 L 493.20 40.89 L 493.90 42.94 L 494.60 45.20 L 495.30 47.62 L 496.00 50.15 L 496.70 52.72 L 497.40 55.27 L 498.10 57.77 L 498.80 60.16 L 499.50 62.42 L 500.20 64.51 L 500.90 66.42 L 501.60 68.15 L 502.30 69.68 L 503.00 71.02 L 503.70 72.19 L 504.40 73.18 L 505.10 74.02 L 505.80 74.71 L 506.50 75.28 L 507.20 75.75 L 507.90 76.13 L 508.60 76.43 L 509.30 76.67 L 510.00 76.86 L 510.70 77.01 L 511.40 77.12 L 512.10 77.21 L 512.80 77.29 L 513.50 77.34 L 514.20 77.39 L 514.90 77.43 L 515.60 77.46 L 516.30 77.49 L 517.00 77.52 L 517.70 77.54 L 518.40 77.57 L 519.10 77.59 L 519.80 77.61 L 520.50 77.63 L 521.20 77.65 L 521.90 77.67 L 522.60 77.69 L 523.30 77.71 L 524.00 77.73 L 524.70 77.75 L 525.40 77.77 L 526.10 77.79 L 526.80 77.81 L 527.50 77.82 L 528.20 77.84 L 528.90 77.86 L 529.60 77.88 L 530.30 77.90 L 531.00 77.92 L 531.70 77.94 L 532.40 77.96 L 533.10 77.98 L 533.80 78.00 L 534.50 78.02 L 535.20 78.04 L 535.90 78.06 L 536.60 78.08 L 537.30 78.10 L 538.00 78.12 L 538.70 78.14 L 539.40 78.16 L 540.10 78.17 L 540.80 78.19" fill="none" stroke="#8b3a12" stroke-width="2.1"/>
<path d="M 465.20 75.49 L 465.90 75.49 L 466.60 75.48 L 467.30 75.46 L 468.00 75.42 L 468.70 75.35 L 469.40 75.26 L 470.10 75.12 L 470.80 74.94 L 471.50 74.70 L 472.20 74.38 L 472.90 73.98 L 473.60 73.47 L 474.30 72.84 L 475.00 72.08 L 475.70 71.17 L 476.40 70.09 L 477.10 68.83 L 477.80 67.38 L 478.50 65.74 L 479.20 63.91 L 479.90 61.90 L 480.60 59.73 L 481.30 57.41 L 482.00 54.99 L 482.70 52.49 L 483.40 49.99 L 484.10 47.51 L 484.80 45.14 L 485.50 42.91 L 486.20 40.91 L 486.90 39.17 L 487.60 37.77 L 488.30 36.73 L 489.00 36.09 L 489.70 35.87 L 490.40 36.09 L 491.10 36.73 L 491.80 37.77 L 492.50 39.19 L 493.20 40.94 L 493.90 42.97 L 494.60 45.22 L 495.30 47.64 L 496.00 50.16 L 496.70 52.72 L 497.40 55.28 L 498.10 57.77 L 498.80 60.16 L 499.50 62.42 L 500.20 64.51 L 500.90 66.42 L 501.60 68.15 L 502.30 69.68 L 503.00 71.02 L 503.70 72.19 L 504.40 73.18 L 505.10 74.02 L 505.80 74.71 L 506.50 75.28 L 507.20 75.75 L 507.90 76.13 L 508.60 76.43 L 509.30 76.67 L 510.00 76.86 L 510.70 77.01 L 511.40 77.12 L 512.10 77.21 L 512.80 77.29 L 513.50 77.34 L 514.20 77.39" fill="none" stroke="#556b2f" stroke-width="1.3"/>
<path d="M 392.40 124.61 L 393.10 124.63 L 393.80 124.66 L 394.50 124.68 L 395.20 124.70 L 395.90 124.72 L 396.60 124.74 L 397.30 124.77 L 398.00 124.79 L 398.70 124.81 L 399.40 124.83 L 400.10 124.85 L 400.80 124.87 L 401.50 124.90 L 402.20 124.92 L 402.90 124.94 L 403.60 124.96 L 404.30 124.98 L 405.00 125.01 L 405.70 125.03 L 406.40 125.05 L 407.10 125.07 L 407.80 125.09 L 408.50 125.12 L 409.20 125.14 L 409.90 125.16 L 410.60 125.18 L 411.30 125.20 L 412.00 125.22 L 412.70 125.25 L 413.40 125.27 L 414.10 125.29 L 414.80 125.31 L 415.50 125.33 L 416.20 125.36 L 416.90 125.38 L 417.60 125.40 L 418.30 125.42 L 419.00 125.44 L 419.70 125.47 L 420.40 125.49 L 421.10 125.51 L 421.80 125.53 L 422.50 125.55 L 423.20 125.57 L 423.90 125.60 L 424.60 125.62 L 425.30 125.64 L 426.00 125.66 L 426.70 125.68 L 427.40 125.71 L 428.10 125.73 L 428.80 125.75 L 429.50 125.77 L 430.20 125.79 L 430.90 125.82 L 431.60 125.84 L 432.30 125.86 L 433.00 125.88 L 433.70 125.90 L 434.40 125.92 L 435.10 125.95 L 435.80 125.97 L 436.50 125.99 L 437.20 126.01 L 437.90 126.03 L 438.60 126.06 L 439.30 126.08 L 440.00 126.10 L 440.70 126.12 L 441.40 126.14 L 442.10 126.17 L 442.80 126.19 L 443.50 126.21 L 444.20 126.23 L 444.90 126.25 L 445.60 126.27 L 446.30 126.30 L 447.00 126.32 L 447.70 126.34 L 448.40 126.36 L 449.10 126.38 L 449.80 126.41 L 450.50 126.43 L 451.20 126.45 L 451.90 126.47 L 452.60 126.49 L 453.30 126.52 L 454.00 126.54 L 454.70 126.56 L 455.40 126.58 L 456.10 126.60 L 456.80 126.62 L 457.50 126.65 L 458.20 126.67 L 458.90 126.69 L 459.60 126.71 L 460.30 126.73 L 461.00 126.76 L 461.70 126.78 L 462.40 126.80 L 463.10 126.82 L 463.80 126.84 L 464.50 126.87 L 465.20 126.89 L 465.90 126.91 L 466.60 126.93 L 467.30 126.95 L 468.00 126.97 L 468.70 127.00 L 469.40 127.02 L 470.10 127.04 L 470.80 127.06 L 471.50 127.08 L 472.20 127.11 L 472.90 127.14 L 473.60 127.17 L 474.30 127.20 L 475.00 127.23 L 475.70 127.27 L 476.40 127.30 L 477.10 127.33 L 477.80 127.36 L 478.50 127.39 L 479.20 127.42 L 479.90 127.45 L 480.60 127.48 L 481.30 127.52 L 482.00 127.55 L 482.70 127.58 L 483.40 127.61 L 484.10 127.64 L 484.80 127.67 L 485.50 127.70 L 486.20 127.74 L 486.90 127.77 L 487.60 127.80 L 488.30 127.83 L 489.00 127.86 L 489.70 127.89 L 490.40 127.92 L 491.10 127.95 L 491.80 127.99 L 492.50 128.02 L 493.20 128.05 L 493.90 128.08 L 494.60 128.11 L 495.30 128.14 L 496.00 128.17 L 496.70 128.20 L 497.40 128.24 L 498.10 128.27 L 498.80 128.30 L 499.50 128.33 L 500.20 128.36 L 500.90 128.39 L 501.60 128.42 L 502.30 128.46 L 503.00 128.49 L 503.70 128.52 L 504.40 128.55 L 505.10 128.58 L 505.80 128.61 L 506.50 128.64 L 507.20 128.67 L 507.90 128.71 L 508.60 128.74 L 509.30 128.77 L 510.00 128.80 L 510.70 128.81 L 511.40 128.82 L 512.10 128.83 L 512.80 128.84 L 513.50 128.85 L 514.20 128.85 L 514.90 128.86 L 515.60 128.87 L 516.30 128.88 L 517.00 128.89 L 517.70 128.90 L 518.40 128.91 L 519.10 128.92 L 519.80 128.93 L 520.50 128.94 L 521.20 128.94 L 521.90 128.95 L 522.60 128.96 L 523.30 128.97 L 524.00 128.98 L 524.70 128.99 L 525.40 129.00 L 526.10 129.01 L 526.80 129.02 L 527.50 129.03 L 528.20 129.03 L 528.90 129.04 L 529.60 129.05 L 530.30 129.06 L 531.00 129.07 L 531.70 129.08 L 532.40 129.09 L 533.10 129.10 L 533.80 129.11 L 534.50 129.12 L 535.20 129.13 L 535.90 129.13 L 536.60 129.14 L 537.30 129.15 L 538.00 129.16 L 538.70 129.17 L 539.40 129.18 L 540.10 129.19 L 540.80 129.20" fill="none" stroke="#3cb83c" stroke-width="0.9"/>
<path d="M 395.20 124.64 L 395.90 124.64 L 396.60 124.63 L 397.30 124.62 L 398.00 124.60 L 398.70 124.57 L 399.40 124.53 L 400.10 124.47 L 400.80 124.39 L 401.50 124.29 L 402.20 124.17 L 402.90 124.02 L 403.60 123.84 L 404.30 123.62 L 405.00 123.36 L 405.70 123.05 L 406.40 122.70 L 407.10 122.30 L 407.80 121.84 L 408.50 121.33 L 409.20 120.75 L 409.90 120.12 L 410.60 119.43 L 411.30 118.68 L 412.00 117.88 L 412.70 117.03 L 413.40 116.13 L 414.10 115.21 L 414.80 114.27 L 415.50 113.31 L 416.20 112.35 L 416.90 111.42 L 417.60 110.51 L 418.30 109.65 L 419.00 108.84 L 419.70 108.12 L 420.40 107.48 L 421.10 106.95 L 421.80 106.52 L 422.50 106.22 L 423.20 106.05 L 423.90 106.00 L 424.60 106.09 L 425.30 106.32 L 426.00 106.67 L 426.70 107.14 L 427.40 107.72 L 428.10 108.40 L 428.80 109.18 L 429.50 110.02 L 430.20 110.93 L 430.90 111.88 L 431.60 112.87 L 432.30 113.86 L 433.00 114.86 L 433.70 115.85 L 434.40 116.82 L 435.10 117.75 L 435.80 118.64 L 436.50 119.49 L 437.20 120.28 L 437.90 121.01 L 438.60 121.69 L 439.30 122.31 L 440.00 122.86 L 440.70 123.36 L 441.40 123.81 L 442.10 124.20 L 442.80 124.55 L 443.50 124.85 L 444.20 125.11 L 444.90 125.34 L 445.60 125.53 L 446.30 125.70 L 447.00 125.84 L 447.70 125.96 L 448.40 126.06 L 449.10 126.15 L 449.80 126.22 L 450.50 126.28 L 451.20 126.34 L 451.90 126.39 L 452.60 126.43" fill="none" stroke="#5a5a5a" stroke-width="0.9"/>
<path d="M 429.50 125.70 L 430.20 125.70 L 430.90 125.68 L 431.60 125.66 L 432.30 125.62 L 433.00 125.56 L 433.70 125.47 L 434.40 125.36 L 435.10 125.21 L 435.80 125.03 L 436.50 124.79 L 437.20 124.50 L 437.90 124.16 L 438.60 123.74 L 439.30 123.25 L 440.00 122.69 L 440.70 122.05 L 441.40 121.33 L 442.10 120.54 L 442.80 119.67 L 443.50 118.74 L 444.20 117.77 L 444.90 116.75 L 445.60 115.72 L 446.30 114.70 L 447.00 113.71 L 447.70 112.77 L 448.40 111.90 L 449.10 111.14 L 449.80 110.50 L 450.50 110.00 L 451.20 109.67 L 451.90 109.50 L 452.60 109.51 L 453.30 109.69 L 454.00 110.05 L 454.70 110.56 L 455.40 111.22 L 456.10 112.01 L 456.80 112.90 L 457.50 113.88 L 458.20 114.91 L 458.90 115.98 L 459.60 117.05 L 460.30 118.11 L 461.00 119.14 L 461.70 120.12 L 462.40 121.04 L 463.10 121.89 L 463.80 122.66 L 464.50 123.36 L 465.20 123.98 L 465.90 124.52 L 466.60 124.99 L 467.30 125.39 L 468.00 125.73 L 468.70 126.02 L 469.40 126.25 L 470.10 126.45 L 470.80 126.61 L 471.50 126.74 L 472.20 126.85 L 472.90 126.95 L 473.60 127.03 L 474.30 127.10 L 475.00 127.16 L 475.70 127.21" fill="none" stroke="#4cb84c" stroke-width="0.9"/>
<path d="M 440.70 126.07 L 441.40 126.06 L 442.10 126.04 L 442.80 126.00 L 443.50 125.94 L 444.20 125.84 L 444.90 125.69 L 445.60 125.48 L 446.30 125.19 L 447.00 124.80 L 447.70 124.29 L 448.40 123.65 L 449.10 122.83 L 449.80 121.84 L 450.50 120.65 L 451.20 119.24 L 451.90 117.62 L 452.60 115.80 L 453.30 113.79 L 454.00 111.64 L 454.70 109.38 L 455.40 107.07 L 456.10 104.80 L 456.80 102.63 L 457.50 100.64 L 458.20 98.93 L 458.90 97.56 L 459.60 96.59 L 460.30 96.07 L 461.00 96.03 L 461.70 96.46 L 462.40 97.34 L 463.10 98.65 L 463.80 100.31 L 464.50 102.27 L 465.20 104.44 L 465.90 106.74 L 466.60 109.09 L 467.30 111.41 L 468.00 113.65 L 468.70 115.74 L 469.40 117.67 L 470.10 119.39 L 470.80 120.90 L 471.50 122.19 L 472.20 123.29 L 472.90 124.20 L 473.60 124.95 L 474.30 125.55 L 475.00 126.02 L 475.70 126.39 L 476.40 126.67 L 477.10 126.89 L 477.80 127.06 L 478.50 127.19 L 479.20 127.29 L 479.90 127.36 L 480.60 127.43" fill="none" stroke="#5a5a5a" stroke-width="0.9"/>
<path d="M 452.60 126.43 L 453.30 126.44 L 454.00 126.44 L 454.70 126.43 L 455.40 126.42 L 456.10 126.40 L 456.80 126.38 L 457.50 126.35 L 458.20 126.30 L 458.90 126.25 L 459.60 126.18 L 460.30 126.10 L 461.00 126.00 L 461.70 125.89 L 462.40 125.76 L 463.10 125.61 L 463.80 125.44 L 464.50 125.26 L 465.20 125.05 L 465.90 124.83 L 466.60 124.59 L 467.30 124.33 L 468.00 124.06 L 468.70 123.78 L 469.40 123.49 L 470.10 123.19 L 470.80 122.89 L 471.50 122.60 L 472.20 122.31 L 472.90 122.05 L 473.60 121.80 L 474.30 121.57 L 475.00 121.37 L 475.70 121.20 L 476.40 121.06 L 477.10 120.96 L 477.80 120.90 L 478.50 120.87 L 479.20 120.90 L 479.90 120.96 L 480.60 121.07 L 481.30 121.22 L 482.00 121.40 L 482.70 121.62 L 483.40 121.87 L 484.10 122.15 L 484.80 122.46 L 485.50 122.78 L 486.20 123.11 L 486.90 123.46 L 487.60 123.81 L 488.30 124.16 L 489.00 124.51 L 489.70 124.85 L 490.40 125.18 L 491.10 125.49 L 491.80 125.79 L 492.50 126.08 L 493.20 126.35 L 493.90 126.59 L 494.60 126.82 L 495.30 127.03 L 496.00 127.22 L 496.70 127.40 L 497.40 127.55 L 498.10 127.69 L 498.80 127.82 L 499.50 127.93 L 500.20 128.03 L 500.90 128.13 L 501.60 128.21 L 502.30 128.28 L 503.00 128.35 L 503.70 128.41 L 504.40 128.46 L 505.10 128.51 L 505.80 128.56" fill="none" stroke="#5cc45c" stroke-width="0.9"/>
<path d="M 473.60 127.12 L 474.30 127.12 L 475.00 127.11 L 475.70 127.09 L 476.40 127.04 L 477.10 126.96 L 477.80 126.84 L 478.50 126.68 L 479.20 126.46 L 479.90 126.16 L 480.60 125.78 L 481.30 125.30 L 482.00 124.71 L 482.70 123.99 L 483.40 123.13 L 484.10 122.14 L 484.80 121.01 L 485.50 119.75 L 486.20 118.38 L 486.90 116.91 L 487.60 115.38 L 488.30 113.84 L 489.00 112.31 L 489.70 110.86 L 490.40 109.54 L 491.10 108.39 L 491.80 107.46 L 492.50 106.79 L 493.20 106.41 L 493.90 106.33 L 494.60 106.57 L 495.30 107.11 L 496.00 107.93 L 496.70 109.00 L 497.40 110.27 L 498.10 111.70 L 498.80 113.25 L 499.50 114.85 L 500.20 116.45 L 500.90 118.03 L 501.60 119.53 L 502.30 120.93 L 503.00 122.21 L 503.70 123.36 L 504.40 124.37 L 505.10 125.24 L 505.80 125.98 L 506.50 126.60 L 507.20 127.11 L 507.90 127.53 L 508.60 127.86 L 509.30 128.13 L 510.00 128.34 L 510.70 128.48 L 511.40 128.59 L 512.10 128.67 L 512.80 128.73 L 513.50 128.77" fill="none" stroke="#4a9a3a" stroke-width="0.9"/>
<path d="M 392.40 124.59 L 393.10 124.61 L 393.80 124.62 L 394.50 124.63 L 395.20 124.64 L 395.90 124.64 L 396.60 124.63 L 397.30 124.62 L 398.00 124.60 L 398.70 124.57 L 399.40 124.53 L 400.10 124.47 L 400.80 124.39 L 401.50 124.29 L 402.20 124.17 L 402.90 124.02 L 403.60 123.84 L 404.30 123.62 L 405.00 123.36 L 405.70 123.05 L 406.40 122.70 L 407.10 122.30 L 407.80 121.84 L 408.50 121.33 L 409.20 120.75 L 409.90 120.12 L 410.60 119.43 L 411.30 118.68 L 412.00 117.88 L 412.70 117.03 L 413.40 116.13 L 414.10 115.21 L 414.80 114.27 L 415.50 113.31 L 416.20 112.35 L 416.90 111.42 L 417.60 110.51 L 418.30 109.65 L 419.00 108.84 L 419.70 108.12 L 420.40 107.48 L 421.10 106.95 L 421.80 106.52 L 422.50 106.22 L 423.20 106.04 L 423.90 106.00 L 424.60 106.09 L 425.30 106.31 L 426.00 106.66 L 426.70 107.12 L 427.40 107.70 L 428.10 108.37 L 428.80 109.13 L 429.50 109.95 L 430.20 110.84 L 430.90 111.75 L 431.60 112.69 L 432.30 113.62 L 433.00 114.54 L 433.70 115.42 L 434.40 116.25 L 435.10 117.02 L 435.80 117.70 L 436.50 118.29 L 437.20 118.77 L 437.90 119.13 L 438.60 119.36 L 439.30 119.46 L 440.00 119.42 L 440.70 119.24 L 441.40 118.92 L 442.10 118.45 L 442.80 117.85 L 443.50 117.11 L 444.20 116.25 L 444.90 115.27 L 445.60 114.18 L 446.30 112.99 L 447.00 111.70 L 447.70 110.32 L 448.40 108.87 L 449.10 107.33 L 449.80 105.72 L 450.50 104.05 L 451.20 102.31 L 451.90 100.52 L 452.60 98.69 L 453.30 96.84 L 454.00 95.01 L 454.70 93.22 L 455.40 91.53 L 456.10 89.99 L 456.80 88.65 L 457.50 87.57 L 458.20 86.80 L 458.90 86.40 L 459.60 86.39 L 460.30 86.81 L 461.00 87.65 L 461.70 88.90 L 462.40 90.54 L 463.10 92.50 L 463.80 94.73 L 464.50 97.16 L 465.20 99.69 L 465.90 102.27 L 466.60 104.80 L 467.30 107.22 L 468.00 109.49 L 468.70 111.54 L 469.40 113.36 L 470.10 114.94 L 470.80 116.27 L 471.50 117.35 L 472.20 118.21 L 472.90 118.88 L 473.60 119.38 L 474.30 119.73 L 475.00 119.96 L 475.70 120.09 L 476.40 120.14 L 477.10 120.13 L 477.80 120.06 L 478.50 119.95 L 479.20 119.79 L 479.90 119.58 L 480.60 119.30 L 481.30 118.96 L 482.00 118.53 L 482.70 118.01 L 483.40 117.39 L 484.10 116.65 L 484.80 115.79 L 485.50 114.82 L 486.20 113.75 L 486.90 112.60 L 487.60 111.40 L 488.30 110.17 L 489.00 108.96 L 489.70 107.82 L 490.40 106.79 L 491.10 105.93 L 491.80 105.27 L 492.50 104.85 L 493.20 104.71 L 493.90 104.85 L 494.60 105.28 L 495.30 106.00 L 496.00 106.98 L 496.70 108.19 L 497.40 109.59 L 498.10 111.13 L 498.80 112.77 L 499.50 114.45 L 500.20 116.13 L 500.90 117.76 L 501.60 119.31 L 502.30 120.76 L 503.00 122.07 L 503.70 123.25 L 504.40 124.28 L 505.10 125.17 L 505.80 125.93 L 506.50 126.56 L 507.20 127.08 L 507.90 127.50 L 508.60 127.84 L 509.30 128.11 L 510.00 128.33 L 510.70 128.47 L 511.40 128.58 L 512.10 128.66 L 512.80 128.72 L 513.50 128.77 L 514.20 128.80 L 514.90 128.83 L 515.60 128.85 L 516.30 128.87 L 517.00 128.88 L 517.70 128.89 L 518.40 128.91 L 519.10 128.92 L 519.80 128.93 L 520.50 128.93 L 521.20 128.94 L 521.90 128.95 L 522.60 128.96 L 523.30 128.97 L 524.00 128.98 L 524.70 128.99 L 525.40 129.00 L 526.10 129.01 L 526.80 129.02 L 527.50 129.03 L 528.20 129.03 L 528.90 129.04 L 529.60 129.05 L 530.30 129.06 L 531.00 129.07 L 531.70 129.08 L 532.40 129.09 L 533.10 129.10 L 533.80 129.11 L 534.50 129.12 L 535.20 129.13 L 535.90 129.13 L 536.60 129.14 L 537.30 129.15 L 538.00 129.16 L 538.70 129.17 L 539.40 129.18 L 540.10 129.19 L 540.80 129.20" fill="none" stroke="#f7891f" stroke-width="2.2"/>
<path d="M 395.20 124.64 L 395.90 124.64 L 396.60 124.63 L 397.30 124.62 L 398.00 124.60 L 398.70 124.57 L 399.40 124.53 L 400.10 124.47 L 400.80 124.39 L 401.50 124.29 L 402.20 124.17 L 402.90 124.02 L 403.60 123.84 L 404.30 123.62 L 405.00 123.36 L 405.70 123.05 L 406.40 122.70 L 407.10 122.30 L 407.80 121.84 L 408.50 121.33 L 409.20 120.75 L 409.90 120.12 L 410.60 119.43 L 411.30 118.68 L 412.00 117.88 L 412.70 117.03 L 413.40 116.13 L 414.10 115.21 L 414.80 114.27 L 415.50 113.31 L 416.20 112.35 L 416.90 111.42 L 417.60 110.51 L 418.30 109.65 L 419.00 108.84 L 419.70 108.12 L 420.40 107.48 L 421.10 106.95 L 421.80 106.52 L 422.50 106.22 L 423.20 106.05 L 423.90 106.00 L 424.60 106.09 L 425.30 106.32 L 426.00 106.67 L 426.70 107.14 L 427.40 107.72 L 428.10 108.40 L 428.80 109.18 L 429.50 110.02 L 430.20 110.93 L 430.90 111.88 L 431.60 112.87 L 432.30 113.86 L 433.00 114.86 L 433.70 115.85 L 434.40 116.82 L 435.10 117.75 L 435.80 118.64 L 436.50 119.49 L 437.20 120.28 L 437.90 121.01 L 438.60 121.69 L 439.30 122.31 L 440.00 122.86 L 440.70 123.36 L 441.40 123.81 L 442.10 124.20 L 442.80 124.55 L 443.50 124.85 L 444.20 125.11 L 444.90 125.34 L 445.60 125.53 L 446.30 125.70 L 447.00 125.84 L 447.70 125.96 L 448.40 126.06 L 449.10 126.15 L 449.80 126.22 L 450.50 126.28 L 451.20 126.34 L 451.90 126.39 L 452.60 126.43" fill="none" stroke="#5a5048" stroke-width="0.9"/>
<path d="M 473.60 127.12 L 474.30 127.12 L 475.00 127.11 L 475.70 127.09 L 476.40 127.04 L 477.10 126.96 L 477.80 126.84 L 478.50 126.68 L 479.20 126.46 L 479.90 126.16 L 480.60 125.78 L 481.30 125.30 L 482.00 124.71 L 482.70 123.99 L 483.40 123.13 L 484.10 122.14 L 484.80 121.01 L 485.50 119.75 L 486.20 118.38 L 486.90 116.91 L 487.60 115.38 L 488.30 113.84 L 489.00 112.31 L 489.70 110.86 L 490.40 109.54 L 491.10 108.39 L 491.80 107.46 L 492.50 106.79 L 493.20 106.41 L 493.90 106.33 L 494.60 106.57 L 495.30 107.11 L 496.00 107.93 L 496.70 109.00 L 497.40 110.27 L 498.10 111.70 L 498.80 113.25 L 499.50 114.85 L 500.20 116.45 L 500.90 118.03 L 501.60 119.53 L 502.30 120.93 L 503.00 122.21 L 503.70 123.36 L 504.40 124.37 L 505.10 125.24 L 505.80 125.98 L 506.50 126.60 L 507.20 127.11 L 507.90 127.53 L 508.60 127.86 L 509.30 128.13 L 510.00 128.34 L 510.70 128.48 L 511.40 128.59 L 512.10 128.67 L 512.80 128.73 L 513.50 128.77" fill="none" stroke="#5a8a3a" stroke-width="1.0"/>
<path d="M 392.40 176.61 L 393.10 176.63 L 393.80 176.64 L 394.50 176.66 L 395.20 176.68 L 395.90 176.70 L 396.60 176.71 L 397.30 176.73 L 398.00 176.75 L 398.70 176.77 L 399.40 176.78 L 400.10 176.80 L 400.80 176.82 L 401.50 176.83 L 402.20 176.85 L 402.90 176.87 L 403.60 176.89 L 404.30 176.90 L 405.00 176.92 L 405.70 176.94 L 406.40 176.96 L 407.10 176.97 L 407.80 176.99 L 408.50 177.01 L 409.20 177.02 L 409.90 177.04 L 410.60 177.06 L 411.30 177.08 L 412.00 177.09 L 412.70 177.11 L 413.40 177.13 L 414.10 177.15 L 414.80 177.16 L 415.50 177.18 L 416.20 177.20 L 416.90 177.21 L 417.60 177.23 L 418.30 177.25 L 419.00 177.27 L 419.70 177.28 L 420.40 177.30 L 421.10 177.32 L 421.80 177.34 L 422.50 177.35 L 423.20 177.37 L 423.90 177.39 L 424.60 177.40 L 425.30 177.42 L 426.00 177.44 L 426.70 177.46 L 427.40 177.47 L 428.10 177.49 L 428.80 177.51 L 429.50 177.53 L 430.20 177.54 L 430.90 177.56 L 431.60 177.58 L 432.30 177.59 L 433.00 177.61 L 433.70 177.63 L 434.40 177.65 L 435.10 177.66 L 435.80 177.68 L 436.50 177.70 L 437.20 177.72 L 437.90 177.73 L 438.60 177.75 L 439.30 177.77 L 440.00 177.78 L 440.70 177.80 L 441.40 177.82 L 442.10 177.84 L 442.80 177.85 L 443.50 177.87 L 444.20 177.89 L 444.90 177.91 L 445.60 177.92 L 446.30 177.94 L 447.00 177.96 L 447.70 177.97 L 448.40 177.99 L 449.10 178.01 L 449.80 178.03 L 450.50 178.04 L 451.20 178.06 L 451.90 178.08 L 452.60 178.10 L 453.30 178.11 L 454.00 178.13 L 454.70 178.15 L 455.40 178.16 L 456.10 178.18 L 456.80 178.20 L 457.50 178.22 L 458.20 178.23 L 458.90 178.25 L 459.60 178.27 L 460.30 178.29 L 461.00 178.30 L 461.70 178.32 L 462.40 178.34 L 463.10 178.35 L 463.80 178.37 L 464.50 178.39 L 465.20 178.41 L 465.90 178.42 L 466.60 178.44 L 467.30 178.46 L 468.00 178.48 L 468.70 178.49 L 469.40 178.52 L 470.10 178.56 L 470.80 178.60 L 471.50 178.63 L 472.20 178.67 L 472.90 178.71 L 473.60 178.75 L 474.30 178.78 L 475.00 178.82 L 475.70 178.86 L 476.40 178.90 L 477.10 178.93 L 477.80 178.97 L 478.50 179.01 L 479.20 179.05 L 479.90 179.08 L 480.60 179.12 L 481.30 179.16 L 482.00 179.20 L 482.70 179.23 L 483.40 179.27 L 484.10 179.31 L 484.80 179.35 L 485.50 179.38 L 486.20 179.42 L 486.90 179.46 L 487.60 179.50 L 488.30 179.53 L 489.00 179.57 L 489.70 179.61 L 490.40 179.65 L 491.10 179.68 L 491.80 179.72 L 492.50 179.76 L 493.20 179.80 L 493.90 179.83 L 494.60 179.87 L 495.30 179.91 L 496.00 179.95 L 496.70 179.98 L 497.40 180.00 L 498.10 180.00 L 498.80 180.01 L 499.50 180.01 L 500.20 180.01 L 500.90 180.02 L 501.60 180.02 L 502.30 180.02 L 503.00 180.03 L 503.70 180.03 L 504.40 180.03 L 505.10 180.04 L 505.80 180.04 L 506.50 180.04 L 507.20 180.05 L 507.90 180.05 L 508.60 180.05 L 509.30 180.06 L 510.00 180.06 L 510.70 180.06 L 511.40 180.07 L 512.10 180.07 L 512.80 180.07 L 513.50 180.07 L 514.20 180.08 L 514.90 180.08 L 515.60 180.08 L 516.30 180.09 L 517.00 180.09 L 517.70 180.09 L 518.40 180.10 L 519.10 180.10 L 519.80 180.10 L 520.50 180.11 L 521.20 180.11 L 521.90 180.11 L 522.60 180.12 L 523.30 180.12 L 524.00 180.12 L 524.70 180.13 L 525.40 180.13 L 526.10 180.13 L 526.80 180.14 L 527.50 180.14 L 528.20 180.14 L 528.90 180.14 L 529.60 180.15 L 530.30 180.15 L 531.00 180.15 L 531.70 180.16 L 532.40 180.16 L 533.10 180.16 L 533.80 180.17 L 534.50 180.17 L 535.20 180.17 L 535.90 180.18 L 536.60 180.18 L 537.30 180.18 L 538.00 180.19 L 538.70 180.19 L 539.40 180.19 L 540.10 180.20 L 540.80 180.20" fill="none" stroke="#3cb83c" stroke-width="0.9"/>
<path d="M 395.90 176.64 L 396.60 176.63 L 397.30 176.61 L 398.00 176.58 L 398.70 176.53 L 399.40 176.46 L 400.10 176.37 L 400.80 176.24 L 401.50 176.07 L 402.20 175.85 L 402.90 175.57 L 403.60 175.22 L 404.30 174.80 L 405.00 174.28 L 405.70 173.67 L 406.40 172.96 L 407.10 172.14 L 407.80 171.20 L 408.50 170.16 L 409.20 169.01 L 409.90 167.77 L 410.60 166.45 L 411.30 165.07 L 412.00 163.66 L 412.70 162.25 L 413.40 160.88 L 414.10 159.57 L 414.80 158.36 L 415.50 157.30 L 416.20 156.41 L 416.90 155.72 L 417.60 155.25 L 418.30 155.03 L 419.00 155.05 L 419.70 155.32 L 420.40 155.83 L 421.10 156.57 L 421.80 157.51 L 422.50 158.61 L 423.20 159.86 L 423.90 161.21 L 424.60 162.62 L 425.30 164.07 L 426.00 165.51 L 426.70 166.92 L 427.40 168.27 L 428.10 169.54 L 428.80 170.72 L 429.50 171.79 L 430.20 172.75 L 430.90 173.61 L 431.60 174.35 L 432.30 174.99 L 433.00 175.53 L 433.70 175.99 L 434.40 176.36 L 435.10 176.67 L 435.80 176.93 L 436.50 177.13 L 437.20 177.29 L 437.90 177.42 L 438.60 177.52 L 439.30 177.60 L 440.00 177.67 L 440.70 177.72 L 441.40 177.76" fill="none" stroke="#4a5a60" stroke-width="1.0"/>
<path d="M 429.50 177.47 L 430.20 177.46 L 430.90 177.44 L 431.60 177.41 L 432.30 177.36 L 433.00 177.28 L 433.70 177.16 L 434.40 177.01 L 435.10 176.79 L 435.80 176.52 L 436.50 176.16 L 437.20 175.70 L 437.90 175.13 L 438.60 174.44 L 439.30 173.60 L 440.00 172.60 L 440.70 171.44 L 441.40 170.11 L 442.10 168.62 L 442.80 166.96 L 443.50 165.15 L 444.20 163.23 L 444.90 161.23 L 445.60 159.18 L 446.30 157.14 L 447.00 155.16 L 447.70 153.30 L 448.40 151.62 L 449.10 150.18 L 449.80 149.02 L 450.50 148.19 L 451.20 147.72 L 451.90 147.63 L 452.60 147.92 L 453.30 148.58 L 454.00 149.58 L 454.70 150.90 L 455.40 152.49 L 456.10 154.28 L 456.80 156.24 L 457.50 158.28 L 458.20 160.37 L 458.90 162.44 L 459.60 164.45 L 460.30 166.36 L 461.00 168.14 L 461.70 169.76 L 462.40 171.23 L 463.10 172.52 L 463.80 173.64 L 464.50 174.60 L 465.20 175.41 L 465.90 176.09 L 466.60 176.64 L 467.30 177.09 L 468.00 177.45 L 468.70 177.73 L 469.40 177.96 L 470.10 178.15 L 470.80 178.31 L 471.50 178.43 L 472.20 178.53 L 472.90 178.61 L 473.60 178.68" fill="none" stroke="#5a5a5a" stroke-width="1.0"/>
<path d="M 413.40 177.08 L 414.10 177.08 L 414.80 177.08 L 415.50 177.09 L 416.20 177.08 L 416.90 177.08 L 417.60 177.07 L 418.30 177.06 L 419.00 177.04 L 419.70 177.01 L 420.40 176.99 L 421.10 176.95 L 421.80 176.91 L 422.50 176.86 L 423.20 176.80 L 423.90 176.73 L 424.60 176.65 L 425.30 176.56 L 426.00 176.46 L 426.70 176.35 L 427.40 176.22 L 428.10 176.09 L 428.80 175.94 L 429.50 175.78 L 430.20 175.61 L 430.90 175.42 L 431.60 175.23 L 432.30 175.02 L 433.00 174.81 L 433.70 174.58 L 434.40 174.35 L 435.10 174.11 L 435.80 173.86 L 436.50 173.62 L 437.20 173.37 L 437.90 173.12 L 438.60 172.88 L 439.30 172.65 L 440.00 172.42 L 440.70 172.20 L 441.40 172.00 L 442.10 171.82 L 442.80 171.65 L 443.50 171.50 L 444.20 171.37 L 444.90 171.27 L 445.60 171.19 L 446.30 171.14 L 447.00 171.12 L 447.70 171.12 L 448.40 171.15 L 449.10 171.21 L 449.80 171.30 L 450.50 171.41 L 451.20 171.55 L 451.90 171.71 L 452.60 171.89 L 453.30 172.09 L 454.00 172.31 L 454.70 172.55 L 455.40 172.80 L 456.10 173.06 L 456.80 173.33 L 457.50 173.61 L 458.20 173.89 L 458.90 174.17 L 459.60 174.45 L 460.30 174.73 L 461.00 175.00 L 461.70 175.27 L 462.40 175.53 L 463.10 175.78 L 463.80 176.02 L 464.50 176.25 L 465.20 176.47 L 465.90 176.68 L 466.60 176.87 L 467.30 177.06 L 468.00 177.23 L 468.70 177.38 L 469.40 177.54 L 470.10 177.70 L 470.80 177.84 L 471.50 177.97 L 472.20 178.10 L 472.90 178.21 L 473.60 178.32 L 474.30 178.42 L 475.00 178.51 L 475.70 178.59 L 476.40 178.67 L 477.10 178.74 L 477.80 178.81 L 478.50 178.87 L 479.20 178.93 L 479.90 178.99 L 480.60 179.04 L 481.30 179.09 L 482.00 179.14" fill="none" stroke="#5cc05c" stroke-width="1.0"/>
<path d="M 458.20 178.18 L 458.90 178.17 L 459.60 178.17 L 460.30 178.15 L 461.00 178.13 L 461.70 178.09 L 462.40 178.05 L 463.10 177.98 L 463.80 177.90 L 464.50 177.81 L 465.20 177.68 L 465.90 177.54 L 466.60 177.36 L 467.30 177.16 L 468.00 176.93 L 468.70 176.66 L 469.40 176.37 L 470.10 176.06 L 470.80 175.72 L 471.50 175.35 L 472.20 174.96 L 472.90 174.55 L 473.60 174.12 L 474.30 173.69 L 475.00 173.27 L 475.70 172.85 L 476.40 172.46 L 477.10 172.09 L 477.80 171.77 L 478.50 171.49 L 479.20 171.27 L 479.90 171.11 L 480.60 171.03 L 481.30 171.01 L 482.00 171.06 L 482.70 171.19 L 483.40 171.39 L 484.10 171.66 L 484.80 171.98 L 485.50 172.36 L 486.20 172.78 L 486.90 173.23 L 487.60 173.71 L 488.30 174.21 L 489.00 174.72 L 489.70 175.22 L 490.40 175.71 L 491.10 176.19 L 491.80 176.65 L 492.50 177.08 L 493.20 177.48 L 493.90 177.85 L 494.60 178.19 L 495.30 178.49 L 496.00 178.76 L 496.70 179.01 L 497.40 179.20 L 498.10 179.36 L 498.80 179.49 L 499.50 179.59 L 500.20 179.69 L 500.90 179.76 L 501.60 179.82 L 502.30 179.87 L 503.00 179.91 L 503.70 179.94 L 504.40 179.97" fill="none" stroke="#2a8a7a" stroke-width="1.0"/>
<path d="M 392.40 176.60 L 393.10 176.61 L 393.80 176.63 L 394.50 176.63 L 395.20 176.64 L 395.90 176.64 L 396.60 176.63 L 397.30 176.61 L 398.00 176.58 L 398.70 176.53 L 399.40 176.46 L 400.10 176.37 L 400.80 176.24 L 401.50 176.07 L 402.20 175.85 L 402.90 175.57 L 403.60 175.22 L 404.30 174.79 L 405.00 174.28 L 405.70 173.67 L 406.40 172.95 L 407.10 172.13 L 407.80 171.19 L 408.50 170.15 L 409.20 168.99 L 409.90 167.75 L 410.60 166.42 L 411.30 165.04 L 412.00 163.63 L 412.70 162.21 L 413.40 160.82 L 414.10 159.50 L 414.80 158.28 L 415.50 157.20 L 416.20 156.29 L 416.90 155.58 L 417.60 155.09 L 418.30 154.83 L 419.00 154.82 L 419.70 155.05 L 420.40 155.52 L 421.10 156.20 L 421.80 157.08 L 422.50 158.12 L 423.20 159.28 L 423.90 160.55 L 424.60 161.86 L 425.30 163.20 L 426.00 164.52 L 426.70 165.80 L 427.40 167.00 L 428.10 168.12 L 428.80 169.12 L 429.50 169.99 L 430.20 170.74 L 430.90 171.36 L 431.60 171.83 L 432.30 172.18 L 433.00 172.39 L 433.70 172.47 L 434.40 172.42 L 435.10 172.25 L 435.80 171.94 L 436.50 171.51 L 437.20 170.93 L 437.90 170.21 L 438.60 169.34 L 439.30 168.31 L 440.00 167.12 L 440.70 165.76 L 441.40 164.24 L 442.10 162.55 L 442.80 160.72 L 443.50 158.76 L 444.20 156.70 L 444.90 154.58 L 445.60 152.44 L 446.30 150.33 L 447.00 148.31 L 447.70 146.44 L 448.40 144.78 L 449.10 143.38 L 449.80 142.29 L 450.50 141.55 L 451.20 141.20 L 451.90 141.25 L 452.60 141.71 L 453.30 142.55 L 454.00 143.76 L 454.70 145.29 L 455.40 147.11 L 456.10 149.14 L 456.80 151.34 L 457.50 153.63 L 458.20 155.96 L 458.90 158.28 L 459.60 160.53 L 460.30 162.67 L 461.00 164.66 L 461.70 166.49 L 462.40 168.13 L 463.10 169.57 L 463.80 170.83 L 464.50 171.88 L 465.20 172.76 L 465.90 173.46 L 466.60 174.00 L 467.30 174.39 L 468.00 174.65 L 468.70 174.79 L 469.40 174.84 L 470.10 174.80 L 470.80 174.68 L 471.50 174.49 L 472.20 174.25 L 472.90 173.95 L 473.60 173.63 L 474.30 173.28 L 475.00 172.92 L 475.70 172.56 L 476.40 172.22 L 477.10 171.89 L 477.80 171.60 L 478.50 171.35 L 479.20 171.16 L 479.90 171.02 L 480.60 170.95 L 481.30 170.94 L 482.00 171.01 L 482.70 171.15 L 483.40 171.36 L 484.10 171.63 L 484.80 171.96 L 485.50 172.34 L 486.20 172.76 L 486.90 173.22 L 487.60 173.70 L 488.30 174.20 L 489.00 174.71 L 489.70 175.21 L 490.40 175.71 L 491.10 176.19 L 491.80 176.65 L 492.50 177.08 L 493.20 177.48 L 493.90 177.85 L 494.60 178.19 L 495.30 178.49 L 496.00 178.76 L 496.70 179.01 L 497.40 179.20 L 498.10 179.35 L 498.80 179.49 L 499.50 179.59 L 500.20 179.69 L 500.90 179.76 L 501.60 179.82 L 502.30 179.87 L 503.00 179.91 L 503.70 179.94 L 504.40 179.97 L 505.10 179.99 L 505.80 180.00 L 506.50 180.02 L 507.20 180.03 L 507.90 180.04 L 508.60 180.04 L 509.30 180.05 L 510.00 180.05 L 510.70 180.06 L 511.40 180.06 L 512.10 180.07 L 512.80 180.07 L 513.50 180.07 L 514.20 180.08 L 514.90 180.08 L 515.60 180.08 L 516.30 180.09 L 517.00 180.09 L 517.70 180.09 L 518.40 180.10 L 519.10 180.10 L 519.80 180.10 L 520.50 180.11 L 521.20 180.11 L 521.90 180.11 L 522.60 180.12 L 523.30 180.12 L 524.00 180.12 L 524.70 180.13 L 525.40 180.13 L 526.10 180.13 L 526.80 180.14 L 527.50 180.14 L 528.20 180.14 L 528.90 180.14 L 529.60 180.15 L 530.30 180.15 L 531.00 180.15 L 531.70 180.16 L 532.40 180.16 L 533.10 180.16 L 533.80 180.17 L 534.50 180.17 L 535.20 180.17 L 535.90 180.18 L 536.60 180.18 L 537.30 180.18 L 538.00 180.19 L 538.70 180.19 L 539.40 180.19 L 540.10 180.20 L 540.80 180.20" fill="none" stroke="#72c8f2" stroke-width="2.1"/>
<path d="M 496.70 179.98 L 497.40 180.00 L 498.10 180.00 L 498.80 180.01 L 499.50 180.01 L 500.20 180.01 L 500.90 180.02 L 501.60 180.02 L 502.30 180.02 L 503.00 180.03 L 503.70 180.03 L 504.40 180.03 L 505.10 180.04 L 505.80 180.04 L 506.50 180.04 L 507.20 180.05 L 507.90 180.05 L 508.60 180.05 L 509.30 180.06 L 510.00 180.06 L 510.70 180.06 L 511.40 180.07 L 512.10 180.07 L 512.80 180.07 L 513.50 180.07 L 514.20 180.08 L 514.90 180.08 L 515.60 180.08 L 516.30 180.09 L 517.00 180.09 L 517.70 180.09 L 518.40 180.10 L 519.10 180.10 L 519.80 180.10 L 520.50 180.11 L 521.20 180.11 L 521.90 180.11 L 522.60 180.12 L 523.30 180.12 L 524.00 180.12 L 524.70 180.13 L 525.40 180.13 L 526.10 180.13 L 526.80 180.14 L 527.50 180.14 L 528.20 180.14 L 528.90 180.14 L 529.60 180.15 L 530.30 180.15 L 531.00 180.15 L 531.70 180.16 L 532.40 180.16 L 533.10 180.16 L 533.80 180.17 L 534.50 180.17 L 535.20 180.17 L 535.90 180.18 L 536.60 180.18 L 537.30 180.18 L 538.00 180.19 L 538.70 180.19 L 539.40 180.19 L 540.10 180.20 L 540.80 180.20" fill="none" stroke="#3a9a7a" stroke-width="1.3"/>
<path d="M 395.90 176.64 L 396.60 176.63 L 397.30 176.61 L 398.00 176.58 L 398.70 176.53 L 399.40 176.46 L 400.10 176.37 L 400.80 176.24 L 401.50 176.07 L 402.20 175.85 L 402.90 175.57 L 403.60 175.22 L 404.30 174.80 L 405.00 174.28 L 405.70 173.67 L 406.40 172.96 L 407.10 172.14 L 407.80 171.20 L 408.50 170.16 L 409.20 169.01 L 409.90 167.77 L 410.60 166.45 L 411.30 165.07 L 412.00 163.66 L 412.70 162.25 L 413.40 160.88 L 414.10 159.57 L 414.80 158.36 L 415.50 157.30 L 416.20 156.41 L 416.90 155.72 L 417.60 155.25 L 418.30 155.03 L 419.00 155.05 L 419.70 155.32 L 420.40 155.83 L 421.10 156.57 L 421.80 157.51 L 422.50 158.61 L 423.20 159.86 L 423.90 161.21 L 424.60 162.62 L 425.30 164.07 L 426.00 165.51 L 426.70 166.92 L 427.40 168.27 L 428.10 169.54 L 428.80 170.72 L 429.50 171.79 L 430.20 172.75 L 430.90 173.61 L 431.60 174.35 L 432.30 174.99 L 433.00 175.53 L 433.70 175.99 L 434.40 176.36 L 435.10 176.67 L 435.80 176.93 L 436.50 177.13 L 437.20 177.29 L 437.90 177.42 L 438.60 177.52 L 439.30 177.60 L 440.00 177.67 L 440.70 177.72 L 441.40 177.76" fill="none" stroke="#3f7f9a" stroke-width="1.0"/>
<path d="M 458.20 178.18 L 458.90 178.17 L 459.60 178.17 L 460.30 178.15 L 461.00 178.13 L 461.70 178.09 L 462.40 178.05 L 463.10 177.98 L 463.80 177.90 L 464.50 177.81 L 465.20 177.68 L 465.90 177.54 L 466.60 177.36 L 467.30 177.16 L 468.00 176.93 L 468.70 176.66 L 469.40 176.37 L 470.10 176.06 L 470.80 175.72 L 471.50 175.35 L 472.20 174.96 L 472.90 174.55 L 473.60 174.12 L 474.30 173.69 L 475.00 173.27 L 475.70 172.85 L 476.40 172.46 L 477.10 172.09 L 477.80 171.77 L 478.50 171.49 L 479.20 171.27 L 479.90 171.11 L 480.60 171.03 L 481.30 171.01 L 482.00 171.06 L 482.70 171.19 L 483.40 171.39 L 484.10 171.66 L 484.80 171.98 L 485.50 172.36 L 486.20 172.78 L 486.90 173.23 L 487.60 173.71 L 488.30 174.21 L 489.00 174.72 L 489.70 175.22 L 490.40 175.71 L 491.10 176.19 L 491.80 176.65 L 492.50 177.08 L 493.20 177.48 L 493.90 177.85 L 494.60 178.19 L 495.30 178.49 L 496.00 178.76 L 496.70 179.01 L 497.40 179.20 L 498.10 179.36 L 498.80 179.49 L 499.50 179.59 L 500.20 179.69 L 500.90 179.76 L 501.60 179.82 L 502.30 179.87 L 503.00 179.91 L 503.70 179.94 L 504.40 179.97" fill="none" stroke="#2a8a7a" stroke-width="1.2"/>
<path d="M 392.40 231.22 L 393.10 231.25 L 393.80 231.28 L 394.50 231.31 L 395.20 231.34 L 395.90 231.37 L 396.60 231.40 L 397.30 231.43 L 398.00 231.47 L 398.70 231.50 L 399.40 231.53 L 400.10 231.56 L 400.80 231.59 L 401.50 231.62 L 402.20 231.65 L 402.90 231.68 L 403.60 231.71 L 404.30 231.74 L 405.00 231.77 L 405.70 231.81 L 406.40 231.84 L 407.10 231.87 L 407.80 231.90 L 408.50 231.93 L 409.20 231.96 L 409.90 231.99 L 410.60 232.02 L 411.30 232.05 L 412.00 232.08 L 412.70 232.12 L 413.40 232.15 L 414.10 232.18 L 414.80 232.21 L 415.50 232.24 L 416.20 232.27 L 416.90 232.30 L 417.60 232.33 L 418.30 232.36 L 419.00 232.39 L 419.70 232.43 L 420.40 232.46 L 421.10 232.49 L 421.80 232.52 L 422.50 232.55 L 423.20 232.58 L 423.90 232.61 L 424.60 232.64 L 425.30 232.67 L 426.00 232.70 L 426.70 232.73 L 427.40 232.77 L 428.10 232.80 L 428.80 232.83 L 429.50 232.86 L 430.20 232.89 L 430.90 232.92 L 431.60 232.95 L 432.30 232.98 L 433.00 233.01 L 433.70 233.04 L 434.40 233.08 L 435.10 233.11 L 435.80 233.14 L 436.50 233.17 L 437.20 233.20 L 437.90 233.23 L 438.60 233.26 L 439.30 233.29 L 440.00 233.32 L 440.70 233.35 L 441.40 233.38 L 442.10 233.42 L 442.80 233.45 L 443.50 233.48 L 444.20 233.51 L 444.90 233.54 L 445.60 233.57 L 446.30 233.61 L 447.00 233.64 L 447.70 233.67 L 448.40 233.70 L 449.10 233.73 L 449.80 233.77 L 450.50 233.80 L 451.20 233.83 L 451.90 233.86 L 452.60 233.89 L 453.30 233.93 L 454.00 233.96 L 454.70 233.99 L 455.40 234.02 L 456.10 234.05 L 456.80 234.09 L 457.50 234.12 L 458.20 234.15 L 458.90 234.18 L 459.60 234.21 L 460.30 234.25 L 461.00 234.28 L 461.70 234.31 L 462.40 234.34 L 463.10 234.37 L 463.80 234.41 L 464.50 234.44 L 465.20 234.47 L 465.90 234.50 L 466.60 234.53 L 467.30 234.57 L 468.00 234.60 L 468.70 234.63 L 469.40 234.66 L 470.10 234.69 L 470.80 234.73 L 471.50 234.76 L 472.20 234.79 L 472.90 234.82 L 473.60 234.85 L 474.30 234.89 L 475.00 234.92 L 475.70 234.95 L 476.40 234.98 L 477.10 235.01 L 477.80 235.05 L 478.50 235.08 L 479.20 235.11 L 479.90 235.14 L 480.60 235.17 L 481.30 235.21 L 482.00 235.24 L 482.70 235.27 L 483.40 235.30 L 484.10 235.34 L 484.80 235.37 L 485.50 235.40 L 486.20 235.43 L 486.90 235.46 L 487.60 235.50 L 488.30 235.53 L 489.00 235.56 L 489.70 235.59 L 490.40 235.62 L 491.10 235.66 L 491.80 235.69 L 492.50 235.72 L 493.20 235.75 L 493.90 235.78 L 494.60 235.82 L 495.30 235.85 L 496.00 235.88 L 496.70 235.91 L 497.40 235.94 L 498.10 235.98 L 498.80 236.01 L 499.50 236.04 L 500.20 236.07 L 500.90 236.10 L 501.60 236.14 L 502.30 236.17 L 503.00 236.20 L 503.70 236.21 L 504.40 236.21 L 505.10 236.22 L 505.80 236.23 L 506.50 236.24 L 507.20 236.24 L 507.90 236.25 L 508.60 236.26 L 509.30 236.27 L 510.00 236.27 L 510.70 236.28 L 511.40 236.29 L 512.10 236.30 L 512.80 236.30 L 513.50 236.31 L 514.20 236.32 L 514.90 236.33 L 515.60 236.33 L 516.30 236.34 L 517.00 236.35 L 517.70 236.35 L 518.40 236.36 L 519.10 236.37 L 519.80 236.38 L 520.50 236.38 L 521.20 236.39 L 521.90 236.40 L 522.60 236.41 L 523.30 236.41 L 524.00 236.42 L 524.70 236.43 L 525.40 236.44 L 526.10 236.44 L 526.80 236.45 L 527.50 236.46 L 528.20 236.47 L 528.90 236.47 L 529.60 236.48 L 530.30 236.49 L 531.00 236.49 L 531.70 236.50 L 532.40 236.51 L 533.10 236.52 L 533.80 236.52 L 534.50 236.53 L 535.20 236.54 L 535.90 236.55 L 536.60 236.55 L 537.30 236.56 L 538.00 236.57 L 538.70 236.58 L 539.40 236.58 L 540.10 236.59 L 540.80 236.60" fill="none" stroke="#3cb83c" stroke-width="0.9"/>
<path d="M 397.30 231.38 L 398.00 231.39 L 398.70 231.39 L 399.40 231.39 L 400.10 231.38 L 400.80 231.36 L 401.50 231.32 L 402.20 231.27 L 402.90 231.20 L 403.60 231.10 L 404.30 230.98 L 405.00 230.83 L 405.70 230.65 L 406.40 230.42 L 407.10 230.16 L 407.80 229.85 L 408.50 229.48 L 409.20 229.07 L 409.90 228.60 L 410.60 228.07 L 411.30 227.49 L 412.00 226.85 L 412.70 226.16 L 413.40 225.42 L 414.10 224.64 L 414.80 223.82 L 415.50 222.99 L 416.20 222.14 L 416.90 221.29 L 417.60 220.45 L 418.30 219.65 L 419.00 218.89 L 419.70 218.19 L 420.40 217.56 L 421.10 217.03 L 421.80 216.59 L 422.50 216.27 L 423.20 216.06 L 423.90 215.98 L 424.60 216.03 L 425.30 216.20 L 426.00 216.49 L 426.70 216.91 L 427.40 217.43 L 428.10 218.05 L 428.80 218.76 L 429.50 219.53 L 430.20 220.37 L 430.90 221.24 L 431.60 222.14 L 432.30 223.06 L 433.00 223.97 L 433.70 224.86 L 434.40 225.73 L 435.10 226.56 L 435.80 227.36 L 436.50 228.10 L 437.20 228.78 L 437.90 229.42 L 438.60 229.99 L 439.30 230.51 L 440.00 230.97 L 440.70 231.39 L 441.40 231.75 L 442.10 232.07 L 442.80 232.34 L 443.50 232.58 L 444.20 232.79 L 444.90 232.96 L 445.60 233.11 L 446.30 233.24 L 447.00 233.35 L 447.70 233.45 L 448.40 233.53 L 449.10 233.60 L 449.80 233.67 L 450.50 233.72 L 451.20 233.77" fill="none" stroke="#5a5a5a" stroke-width="0.9"/>
<path d="M 407.80 231.85 L 408.50 231.87 L 409.20 231.88 L 409.90 231.90 L 410.60 231.91 L 411.30 231.92 L 412.00 231.93 L 412.70 231.93 L 413.40 231.93 L 414.10 231.93 L 414.80 231.92 L 415.50 231.90 L 416.20 231.88 L 416.90 231.85 L 417.60 231.81 L 418.30 231.77 L 419.00 231.72 L 419.70 231.66 L 420.40 231.59 L 421.10 231.51 L 421.80 231.43 L 422.50 231.33 L 423.20 231.23 L 423.90 231.12 L 424.60 231.00 L 425.30 230.87 L 426.00 230.73 L 426.70 230.59 L 427.40 230.44 L 428.10 230.28 L 428.80 230.12 L 429.50 229.96 L 430.20 229.80 L 430.90 229.64 L 431.60 229.48 L 432.30 229.33 L 433.00 229.18 L 433.70 229.03 L 434.40 228.90 L 435.10 228.78 L 435.80 228.67 L 436.50 228.57 L 437.20 228.49 L 437.90 228.42 L 438.60 228.38 L 439.30 228.35 L 440.00 228.34 L 440.70 228.36 L 441.40 228.39 L 442.10 228.44 L 442.80 228.51 L 443.50 228.61 L 444.20 228.72 L 444.90 228.85 L 445.60 228.99 L 446.30 229.15 L 447.00 229.33 L 447.70 229.52 L 448.40 229.71 L 449.10 229.92 L 449.80 230.13 L 450.50 230.35 L 451.20 230.58 L 451.90 230.80 L 452.60 231.03 L 453.30 231.25 L 454.00 231.47 L 454.70 231.69 L 455.40 231.90 L 456.10 232.10 L 456.80 232.30 L 457.50 232.49 L 458.20 232.68 L 458.90 232.85 L 459.60 233.02 L 460.30 233.17 L 461.00 233.32 L 461.70 233.46 L 462.40 233.59 L 463.10 233.71 L 463.80 233.82 L 464.50 233.93 L 465.20 234.03 L 465.90 234.12 L 466.60 234.20 L 467.30 234.28 L 468.00 234.35 L 468.70 234.42 L 469.40 234.48 L 470.10 234.54 L 470.80 234.60 L 471.50 234.65 L 472.20 234.70 L 472.90 234.75 L 473.60 234.79 L 474.30 234.84" fill="none" stroke="#8fdc8f" stroke-width="0.9"/>
<path d="M 427.40 232.71 L 428.10 232.72 L 428.80 232.72 L 429.50 232.72 L 430.20 232.70 L 430.90 232.67 L 431.60 232.62 L 432.30 232.56 L 433.00 232.47 L 433.70 232.35 L 434.40 232.20 L 435.10 232.01 L 435.80 231.78 L 436.50 231.49 L 437.20 231.16 L 437.90 230.76 L 438.60 230.30 L 439.30 229.77 L 440.00 229.18 L 440.70 228.51 L 441.40 227.78 L 442.10 226.99 L 442.80 226.13 L 443.50 225.23 L 444.20 224.29 L 444.90 223.32 L 445.60 222.35 L 446.30 221.38 L 447.00 220.44 L 447.70 219.54 L 448.40 218.71 L 449.10 217.97 L 449.80 217.32 L 450.50 216.80 L 451.20 216.42 L 451.90 216.17 L 452.60 216.08 L 453.30 216.14 L 454.00 216.36 L 454.70 216.73 L 455.40 217.23 L 456.10 217.87 L 456.80 218.62 L 457.50 219.46 L 458.20 220.39 L 458.90 221.37 L 459.60 222.39 L 460.30 223.42 L 461.00 224.46 L 461.70 225.48 L 462.40 226.47 L 463.10 227.42 L 463.80 228.32 L 464.50 229.15 L 465.20 229.92 L 465.90 230.62 L 466.60 231.25 L 467.30 231.81 L 468.00 232.31 L 468.70 232.74 L 469.40 233.12 L 470.10 233.44 L 470.80 233.72 L 471.50 233.96 L 472.20 234.16 L 472.90 234.33 L 473.60 234.47 L 474.30 234.59 L 475.00 234.69 L 475.70 234.78 L 476.40 234.86 L 477.10 234.92 L 477.80 234.98 L 478.50 235.03" fill="none" stroke="#4cbf4c" stroke-width="0.9"/>
<path d="M 432.30 232.93 L 433.00 232.94 L 433.70 232.95 L 434.40 232.95 L 435.10 232.93 L 435.80 232.91 L 436.50 232.86 L 437.20 232.80 L 437.90 232.71 L 438.60 232.59 L 439.30 232.44 L 440.00 232.25 L 440.70 232.00 L 441.40 231.71 L 442.10 231.35 L 442.80 230.92 L 443.50 230.42 L 444.20 229.84 L 444.90 229.17 L 445.60 228.42 L 446.30 227.58 L 447.00 226.65 L 447.70 225.64 L 448.40 224.56 L 449.10 223.41 L 449.80 222.21 L 450.50 220.97 L 451.20 219.72 L 451.90 218.47 L 452.60 217.25 L 453.30 216.09 L 454.00 215.01 L 454.70 214.03 L 455.40 213.18 L 456.10 212.48 L 456.80 211.95 L 457.50 211.60 L 458.20 211.45 L 458.90 211.49 L 459.60 211.72 L 460.30 212.15 L 461.00 212.76 L 461.70 213.54 L 462.40 214.46 L 463.10 215.51 L 463.80 216.67 L 464.50 217.90 L 465.20 219.18 L 465.90 220.50 L 466.60 221.81 L 467.30 223.11 L 468.00 224.37 L 468.70 225.58 L 469.40 226.73 L 470.10 227.79 L 470.80 228.78 L 471.50 229.67 L 472.20 230.48 L 472.90 231.21 L 473.60 231.84 L 474.30 232.40 L 475.00 232.89 L 475.70 233.30 L 476.40 233.66 L 477.10 233.96 L 477.80 234.21 L 478.50 234.42 L 479.20 234.60 L 479.90 234.75 L 480.60 234.88 L 481.30 234.98 L 482.00 235.07 L 482.70 235.15 L 483.40 235.21 L 484.10 235.27" fill="none" stroke="#5a5a5a" stroke-width="0.9"/>
<path d="M 458.90 234.13 L 459.60 234.13 L 460.30 234.11 L 461.00 234.07 L 461.70 234.01 L 462.40 233.90 L 463.10 233.75 L 463.80 233.54 L 464.50 233.27 L 465.20 232.93 L 465.90 232.51 L 466.60 232.02 L 467.30 231.48 L 468.00 230.88 L 468.70 230.27 L 469.40 229.66 L 470.10 229.09 L 470.80 228.59 L 471.50 228.20 L 472.20 227.94 L 472.90 227.83 L 473.60 227.89 L 474.30 228.11 L 475.00 228.48 L 475.70 228.97 L 476.40 229.56 L 477.10 230.21 L 477.80 230.89 L 478.50 231.56 L 479.20 232.21 L 479.90 232.80 L 480.60 233.33 L 481.30 233.79 L 482.00 234.17 L 482.70 234.49 L 483.40 234.74 L 484.10 234.94 L 484.80 235.10 L 485.50 235.22 L 486.20 235.31 L 486.90 235.39" fill="none" stroke="#8fdc8f" stroke-width="0.9"/>
<path d="M 464.50 234.38 L 465.20 234.39 L 465.90 234.38 L 466.60 234.37 L 467.30 234.33 L 468.00 234.28 L 468.70 234.19 L 469.40 234.07 L 470.10 233.91 L 470.80 233.69 L 471.50 233.41 L 472.20 233.05 L 472.90 232.61 L 473.60 232.08 L 474.30 231.43 L 475.00 230.67 L 475.70 229.78 L 476.40 228.76 L 477.10 227.61 L 477.80 226.34 L 478.50 224.95 L 479.20 223.47 L 479.90 221.90 L 480.60 220.29 L 481.30 218.65 L 482.00 217.04 L 482.70 215.49 L 483.40 214.04 L 484.10 212.73 L 484.80 211.61 L 485.50 210.71 L 486.20 210.06 L 486.90 209.69 L 487.60 209.60 L 488.30 209.80 L 489.00 210.28 L 489.70 211.04 L 490.40 212.04 L 491.10 213.25 L 491.80 214.65 L 492.50 216.18 L 493.20 217.81 L 493.90 219.49 L 494.60 221.19 L 495.30 222.86 L 496.00 224.48 L 496.70 226.02 L 497.40 227.45 L 498.10 228.77 L 498.80 229.96 L 499.50 231.02 L 500.20 231.95 L 500.90 232.76 L 501.60 233.45 L 502.30 234.04 L 503.00 234.53 L 503.70 234.91 L 504.40 235.22 L 505.10 235.47 L 505.80 235.66 L 506.50 235.82 L 507.20 235.94 L 507.90 236.03 L 508.60 236.10 L 509.30 236.15 L 510.00 236.19 L 510.70 236.23" fill="none" stroke="#4aaa4a" stroke-width="0.9"/>
<path d="M 392.40 231.21 L 393.10 231.24 L 393.80 231.27 L 394.50 231.29 L 395.20 231.32 L 395.90 231.34 L 396.60 231.36 L 397.30 231.37 L 398.00 231.38 L 398.70 231.39 L 399.40 231.39 L 400.10 231.37 L 400.80 231.35 L 401.50 231.31 L 402.20 231.26 L 402.90 231.18 L 403.60 231.09 L 404.30 230.96 L 405.00 230.81 L 405.70 230.62 L 406.40 230.39 L 407.10 230.12 L 407.80 229.79 L 408.50 229.42 L 409.20 228.99 L 409.90 228.51 L 410.60 227.96 L 411.30 227.36 L 412.00 226.70 L 412.70 225.98 L 413.40 225.21 L 414.10 224.39 L 414.80 223.53 L 415.50 222.65 L 416.20 221.74 L 416.90 220.83 L 417.60 219.93 L 418.30 219.05 L 419.00 218.21 L 419.70 217.42 L 420.40 216.69 L 421.10 216.05 L 421.80 215.50 L 422.50 215.05 L 423.20 214.70 L 423.90 214.47 L 424.60 214.36 L 425.30 214.37 L 426.00 214.49 L 426.70 214.71 L 427.40 215.04 L 428.10 215.45 L 428.80 215.94 L 429.50 216.48 L 430.20 217.07 L 430.90 217.69 L 431.60 218.31 L 432.30 218.92 L 433.00 219.51 L 433.70 220.06 L 434.40 220.55 L 435.10 220.96 L 435.80 221.29 L 436.50 221.52 L 437.20 221.63 L 437.90 221.62 L 438.60 221.48 L 439.30 221.20 L 440.00 220.77 L 440.70 220.20 L 441.40 219.47 L 442.10 218.60 L 442.80 217.57 L 443.50 216.40 L 444.20 215.10 L 444.90 213.68 L 445.60 212.15 L 446.30 210.54 L 447.00 208.86 L 447.70 207.14 L 448.40 205.41 L 449.10 203.70 L 449.80 202.04 L 450.50 200.46 L 451.20 199.00 L 451.90 197.68 L 452.60 196.54 L 453.30 195.61 L 454.00 194.91 L 454.70 194.45 L 455.40 194.26 L 456.10 194.34 L 456.80 194.69 L 457.50 195.30 L 458.20 196.17 L 458.90 197.28 L 459.60 198.61 L 460.30 200.12 L 461.00 201.77 L 461.70 203.54 L 462.40 205.38 L 463.10 207.24 L 463.80 209.09 L 464.50 210.87 L 465.20 212.56 L 465.90 214.11 L 466.60 215.51 L 467.30 216.74 L 468.00 217.80 L 468.70 218.68 L 469.40 219.41 L 470.10 220.00 L 470.80 220.47 L 471.50 220.86 L 472.20 221.17 L 472.90 221.44 L 473.60 221.66 L 474.30 221.82 L 475.00 221.92 L 475.70 221.94 L 476.40 221.85 L 477.10 221.63 L 477.80 221.26 L 478.50 220.72 L 479.20 220.01 L 479.90 219.14 L 480.60 218.12 L 481.30 216.99 L 482.00 215.79 L 482.70 214.57 L 483.40 213.38 L 484.10 212.27 L 484.80 211.29 L 485.50 210.50 L 486.20 209.92 L 486.90 209.59 L 487.60 209.54 L 488.30 209.76 L 489.00 210.26 L 489.70 211.02 L 490.40 212.03 L 491.10 213.25 L 491.80 214.65 L 492.50 216.18 L 493.20 217.81 L 493.90 219.49 L 494.60 221.19 L 495.30 222.86 L 496.00 224.48 L 496.70 226.02 L 497.40 227.45 L 498.10 228.77 L 498.80 229.96 L 499.50 231.02 L 500.20 231.95 L 500.90 232.76 L 501.60 233.45 L 502.30 234.04 L 503.00 234.53 L 503.70 234.91 L 504.40 235.22 L 505.10 235.47 L 505.80 235.66 L 506.50 235.82 L 507.20 235.94 L 507.90 236.03 L 508.60 236.10 L 509.30 236.15 L 510.00 236.19 L 510.70 236.23 L 511.40 236.25 L 512.10 236.27 L 512.80 236.29 L 513.50 236.30 L 514.20 236.31 L 514.90 236.32 L 515.60 236.33 L 516.30 236.34 L 517.00 236.35 L 517.70 236.35 L 518.40 236.36 L 519.10 236.37 L 519.80 236.38 L 520.50 236.38 L 521.20 236.39 L 521.90 236.40 L 522.60 236.41 L 523.30 236.41 L 524.00 236.42 L 524.70 236.43 L 525.40 236.44 L 526.10 236.44 L 526.80 236.45 L 527.50 236.46 L 528.20 236.47 L 528.90 236.47 L 529.60 236.48 L 530.30 236.49 L 531.00 236.49 L 531.70 236.50 L 532.40 236.51 L 533.10 236.52 L 533.80 236.52 L 534.50 236.53 L 535.20 236.54 L 535.90 236.55 L 536.60 236.55 L 537.30 236.56 L 538.00 236.57 L 538.70 236.58 L 539.40 236.58 L 540.10 236.59 L 540.80 236.60" fill="none" stroke="#1f28d8" stroke-width="2.3"/>
<path d="M 464.50 234.38 L 465.20 234.39 L 465.90 234.38 L 466.60 234.37 L 467.30 234.33 L 468.00 234.28 L 468.70 234.19 L 469.40 234.07 L 470.10 233.91 L 470.80 233.69 L 471.50 233.41 L 472.20 233.05 L 472.90 232.61 L 473.60 232.08 L 474.30 231.43 L 475.00 230.67 L 475.70 229.78 L 476.40 228.76 L 477.10 227.61 L 477.80 226.34 L 478.50 224.95 L 479.20 223.47 L 479.90 221.90 L 480.60 220.29 L 481.30 218.65 L 482.00 217.04 L 482.70 215.49 L 483.40 214.04 L 484.10 212.73 L 484.80 211.61 L 485.50 210.71 L 486.20 210.06 L 486.90 209.69 L 487.60 209.60 L 488.30 209.80 L 489.00 210.28 L 489.70 211.04 L 490.40 212.04 L 491.10 213.25 L 491.80 214.65 L 492.50 216.18 L 493.20 217.81 L 493.90 219.49 L 494.60 221.19 L 495.30 222.86 L 496.00 224.48 L 496.70 226.02 L 497.40 227.45 L 498.10 228.77 L 498.80 229.96 L 499.50 231.02 L 500.20 231.95 L 500.90 232.76 L 501.60 233.45 L 502.30 234.04 L 503.00 234.53 L 503.70 234.91 L 504.40 235.22 L 505.10 235.47 L 505.80 235.66 L 506.50 235.82 L 507.20 235.94 L 507.90 236.03 L 508.60 236.10 L 509.30 236.15 L 510.00 236.19 L 510.70 236.23" fill="none" stroke="#3a7a8a" stroke-width="0.9"/>
</svg></body></html>
